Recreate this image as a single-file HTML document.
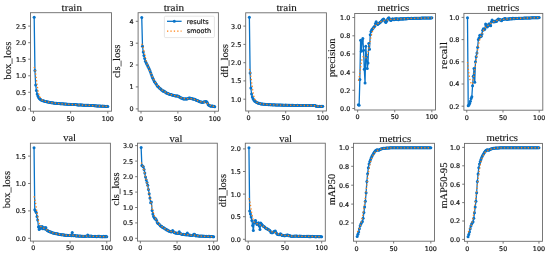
<!DOCTYPE html>
<html lang="en">
<head>
<meta charset="utf-8">
<title>results</title>
<style>html,body{margin:0;padding:0;background:#fff}svg{display:block}</style>
</head>
<body>
<svg width="550" height="259" viewBox="0 0 550 259" text-rendering="geometricPrecision">
<rect width="550" height="259" fill="#fff"/>
<g>
<polyline points="34.18,17.2 34.93,70.6 35.67,85 36.41,90.5 37.16,94 37.9,96.06 38.64,97.5 39.39,98.57 40.13,99.3 40.88,99.77 41.62,100.15 42.36,100.48 43.11,100.72 43.85,100.88 44.6,101.15 45.34,101.5 46.08,101.52 46.83,101.75 47.57,102.04 48.31,101.98 49.06,102.26 49.8,102.49 50.55,102.45 51.29,102.65 52.03,102.86 52.78,102.78 53.52,102.98 54.26,103.13 55.01,103.2 55.75,103.23 56.5,103.25 57.24,103.4 57.98,103.44 58.73,103.54 59.47,103.58 60.21,103.75 60.96,103.8 61.7,103.75 62.45,103.87 63.19,103.85 63.93,103.95 64.68,103.98 65.42,104.1 66.17,104.08 66.91,104.15 67.65,104.26 68.4,104.24 69.14,104.4 69.88,104.28 70.63,104.46 71.37,104.43 72.12,104.48 72.86,104.57 73.6,104.59 74.35,104.61 75.09,104.55 75.83,104.61 76.58,104.8 77.32,104.8 78.07,104.88 78.81,104.98 79.55,104.95 80.3,104.84 81.04,104.94 81.79,105.04 82.53,105 83.27,105.21 84.02,105.25 84.76,105.26 85.5,105.21 86.25,105.34 86.99,105.21 87.74,105.3 88.48,105.37 89.22,105.48 89.97,105.46 90.71,105.42 91.45,105.51 92.2,105.55 92.94,105.59 93.69,105.6 94.43,105.7 95.17,105.75 95.92,105.87 96.66,105.92 97.4,105.9 98.15,105.93 98.89,106.05 99.64,106.11 100.38,106.11 101.12,106.18 101.87,106.26 102.61,106.08 103.36,106.33 104.1,106.23 104.84,106.32 105.59,106.44 106.33,106.46 107.07,106.37 107.82,106.54" fill="none" stroke="#0973c8" stroke-width="1.3" stroke-linejoin="round" stroke-linecap="round"/>
<g fill="#0973c8"><circle cx="34.18" cy="17.2" r="1.5"/><circle cx="34.93" cy="70.6" r="1.5"/><circle cx="35.67" cy="85" r="1.5"/><circle cx="36.41" cy="90.5" r="1.5"/><circle cx="37.16" cy="94" r="1.5"/><circle cx="37.9" cy="96.06" r="1.5"/><circle cx="38.64" cy="97.5" r="1.5"/><circle cx="39.39" cy="98.57" r="1.5"/><circle cx="40.13" cy="99.3" r="1.5"/><circle cx="40.88" cy="99.77" r="1.5"/><circle cx="41.62" cy="100.15" r="1.5"/><circle cx="42.36" cy="100.48" r="1.5"/><circle cx="43.11" cy="100.72" r="1.5"/><circle cx="43.85" cy="100.88" r="1.5"/><circle cx="44.6" cy="101.15" r="1.5"/><circle cx="45.34" cy="101.5" r="1.5"/><circle cx="46.08" cy="101.52" r="1.5"/><circle cx="46.83" cy="101.75" r="1.5"/><circle cx="47.57" cy="102.04" r="1.5"/><circle cx="48.31" cy="101.98" r="1.5"/><circle cx="49.06" cy="102.26" r="1.5"/><circle cx="49.8" cy="102.49" r="1.5"/><circle cx="50.55" cy="102.45" r="1.5"/><circle cx="51.29" cy="102.65" r="1.5"/><circle cx="52.03" cy="102.86" r="1.5"/><circle cx="52.78" cy="102.78" r="1.5"/><circle cx="53.52" cy="102.98" r="1.5"/><circle cx="54.26" cy="103.13" r="1.5"/><circle cx="55.01" cy="103.2" r="1.5"/><circle cx="55.75" cy="103.23" r="1.5"/><circle cx="56.5" cy="103.25" r="1.5"/><circle cx="57.24" cy="103.4" r="1.5"/><circle cx="57.98" cy="103.44" r="1.5"/><circle cx="58.73" cy="103.54" r="1.5"/><circle cx="59.47" cy="103.58" r="1.5"/><circle cx="60.21" cy="103.75" r="1.5"/><circle cx="60.96" cy="103.8" r="1.5"/><circle cx="61.7" cy="103.75" r="1.5"/><circle cx="62.45" cy="103.87" r="1.5"/><circle cx="63.19" cy="103.85" r="1.5"/><circle cx="63.93" cy="103.95" r="1.5"/><circle cx="64.68" cy="103.98" r="1.5"/><circle cx="65.42" cy="104.1" r="1.5"/><circle cx="66.17" cy="104.08" r="1.5"/><circle cx="66.91" cy="104.15" r="1.5"/><circle cx="67.65" cy="104.26" r="1.5"/><circle cx="68.4" cy="104.24" r="1.5"/><circle cx="69.14" cy="104.4" r="1.5"/><circle cx="69.88" cy="104.28" r="1.5"/><circle cx="70.63" cy="104.46" r="1.5"/><circle cx="71.37" cy="104.43" r="1.5"/><circle cx="72.12" cy="104.48" r="1.5"/><circle cx="72.86" cy="104.57" r="1.5"/><circle cx="73.6" cy="104.59" r="1.5"/><circle cx="74.35" cy="104.61" r="1.5"/><circle cx="75.09" cy="104.55" r="1.5"/><circle cx="75.83" cy="104.61" r="1.5"/><circle cx="76.58" cy="104.8" r="1.5"/><circle cx="77.32" cy="104.8" r="1.5"/><circle cx="78.07" cy="104.88" r="1.5"/><circle cx="78.81" cy="104.98" r="1.5"/><circle cx="79.55" cy="104.95" r="1.5"/><circle cx="80.3" cy="104.84" r="1.5"/><circle cx="81.04" cy="104.94" r="1.5"/><circle cx="81.79" cy="105.04" r="1.5"/><circle cx="82.53" cy="105" r="1.5"/><circle cx="83.27" cy="105.21" r="1.5"/><circle cx="84.02" cy="105.25" r="1.5"/><circle cx="84.76" cy="105.26" r="1.5"/><circle cx="85.5" cy="105.21" r="1.5"/><circle cx="86.25" cy="105.34" r="1.5"/><circle cx="86.99" cy="105.21" r="1.5"/><circle cx="87.74" cy="105.3" r="1.5"/><circle cx="88.48" cy="105.37" r="1.5"/><circle cx="89.22" cy="105.48" r="1.5"/><circle cx="89.97" cy="105.46" r="1.5"/><circle cx="90.71" cy="105.42" r="1.5"/><circle cx="91.45" cy="105.51" r="1.5"/><circle cx="92.2" cy="105.55" r="1.5"/><circle cx="92.94" cy="105.59" r="1.5"/><circle cx="93.69" cy="105.6" r="1.5"/><circle cx="94.43" cy="105.7" r="1.5"/><circle cx="95.17" cy="105.75" r="1.5"/><circle cx="95.92" cy="105.87" r="1.5"/><circle cx="96.66" cy="105.92" r="1.5"/><circle cx="97.4" cy="105.9" r="1.5"/><circle cx="98.15" cy="105.93" r="1.5"/><circle cx="98.89" cy="106.05" r="1.5"/><circle cx="99.64" cy="106.11" r="1.5"/><circle cx="100.38" cy="106.11" r="1.5"/><circle cx="101.12" cy="106.18" r="1.5"/><circle cx="101.87" cy="106.26" r="1.5"/><circle cx="102.61" cy="106.08" r="1.5"/><circle cx="103.36" cy="106.33" r="1.5"/><circle cx="104.1" cy="106.23" r="1.5"/><circle cx="104.84" cy="106.32" r="1.5"/><circle cx="105.59" cy="106.44" r="1.5"/><circle cx="106.33" cy="106.46" r="1.5"/><circle cx="107.07" cy="106.37" r="1.5"/><circle cx="107.82" cy="106.54" r="1.5"/></g>
<polyline points="34.18,66.83 34.93,69.48 35.67,74.11 36.41,79.68 37.16,85.15 37.9,89.81 38.64,93.4 39.39,95.94 40.13,97.66 40.88,98.8 41.62,99.56 42.36,100.1 43.11,100.5 43.85,100.82 44.6,101.08 45.34,101.31 46.08,101.52 46.83,101.71 47.57,101.89 48.31,102.05 49.06,102.21 49.8,102.35 50.55,102.49 51.29,102.62 52.03,102.74 52.78,102.85 53.52,102.95 54.26,103.05 55.01,103.13 55.75,103.22 56.5,103.3 57.24,103.38 57.98,103.45 58.73,103.53 59.47,103.6 60.21,103.66 60.96,103.73 61.7,103.78 62.45,103.84 63.19,103.89 63.93,103.95 64.68,104 65.42,104.05 66.17,104.11 66.91,104.16 67.65,104.21 68.4,104.26 69.14,104.31 69.88,104.36 70.63,104.4 71.37,104.44 72.12,104.48 72.86,104.52 73.6,104.56 74.35,104.6 75.09,104.65 75.83,104.69 76.58,104.74 77.32,104.79 78.07,104.83 78.81,104.87 79.55,104.91 80.3,104.95 81.04,104.99 81.79,105.04 82.53,105.08 83.27,105.13 84.02,105.17 84.76,105.21 85.5,105.24 86.25,105.28 86.99,105.31 87.74,105.34 88.48,105.37 89.22,105.41 89.97,105.45 90.71,105.48 91.45,105.52 92.2,105.56 92.94,105.61 93.69,105.66 94.43,105.71 95.17,105.76 95.92,105.82 96.66,105.87 97.4,105.92 98.15,105.97 98.89,106.02 99.64,106.06 100.38,106.11 101.12,106.15 101.87,106.18 102.61,106.22 103.36,106.26 104.1,106.29 104.84,106.33 105.59,106.36 106.33,106.39 107.07,106.41 107.82,106.42" fill="none" stroke="#ff7f0e" stroke-width="1.3" stroke-dasharray="1.3 2.1"/>
<rect x="30.5" y="12.7" width="81" height="98.5" stroke="#6a6a6a" stroke-width="0.9" fill="none"/>
<path d="M33.44 111.2v2.3M70.63 111.2v2.3M107.82 111.2v2.3M30.5 108.9h-2.3M30.5 92.3h-2.3M30.5 75.8h-2.3M30.5 59.2h-2.3M30.5 42.7h-2.3M30.5 26.1h-2.3" stroke="#6a6a6a" stroke-width="0.9" fill="none"/>
<g font-family="'DejaVu Sans', 'Liberation Sans', sans-serif" font-size="6.4" fill="#111" stroke="#111" stroke-width="0.18">
<text x="33.44" y="120.5" text-anchor="middle">0</text>
<text x="70.63" y="120.5" text-anchor="middle">50</text>
<text x="107.82" y="120.5" text-anchor="middle">100</text>
<text x="26.05" y="111.3" text-anchor="end">0.0</text>
<text x="26.05" y="94.7" text-anchor="end">0.5</text>
<text x="26.05" y="78.2" text-anchor="end">1.0</text>
<text x="26.05" y="61.6" text-anchor="end">1.5</text>
<text x="26.05" y="45.1" text-anchor="end">2.0</text>
<text x="26.05" y="28.5" text-anchor="end">2.5</text>
</g>
<g font-family="'Liberation Serif', 'DejaVu Serif', serif" font-size="10.2" fill="#111" stroke="#111" stroke-width="0.12">
<text x="61.6" y="10.8" textLength="20.4" lengthAdjust="spacingAndGlyphs">train</text>
<text transform="translate(11 79.7) rotate(-90)" textLength="38.1" lengthAdjust="spacingAndGlyphs">box_loss</text>
</g>
</g>
<g>
<polyline points="141.75,17.4 142.49,46.2 143.22,52 143.96,55.5 144.7,58.56 145.44,61.29 146.17,62.76 146.91,64.23 147.65,65.7 148.39,67.27 149.12,68.83 149.86,70.4 150.6,72.56 151.34,74.53 152.07,76.41 152.81,78.19 153.55,79.66 154.29,81.38 155.02,82.31 155.76,83.55 156.5,84.58 157.23,85.99 157.97,86.33 158.71,87.31 159.45,87.95 160.18,88.57 160.92,89.2 161.66,90.04 162.4,90.24 163.13,91.15 163.87,91.11 164.61,91.72 165.35,92.11 166.08,92.73 166.82,93.21 167.56,93.22 168.3,93.67 169.03,93.88 169.77,94.43 170.51,94.57 171.24,94.46 171.98,95.02 172.72,95.37 173.46,95.13 174.19,95.51 174.93,95.84 175.67,96.08 176.41,95.96 177.14,95.76 177.88,96.13 178.62,96.35 179.36,97.11 180.09,97.35 180.83,97.8 181.57,98.33 182.31,98.19 183.04,98.69 183.78,98.93 184.52,99.05 185.26,98.83 185.99,99.03 186.73,98.92 187.47,98.69 188.2,98.52 188.94,98.1 189.68,97.99 190.42,98.37 191.15,98.53 191.89,98.55 192.63,98.91 193.37,99.12 194.1,99.35 194.84,99.33 195.58,99.7 196.32,100.25 197.05,100.41 197.79,100.78 198.53,100.97 199.27,101.47 200,101.71 200.74,102.1 201.48,102.01 202.21,102.38 202.95,102.24 203.69,102.01 204.43,101.84 205.16,101.82 205.9,101.55 206.64,101.7 207.38,102.81 208.11,104.61 208.85,105.22 209.59,105.54 210.33,106.01 211.06,106.31 211.8,106.1 212.54,106.1 213.28,106.49 214.01,106.21 214.75,106.77" fill="none" stroke="#0973c8" stroke-width="1.3" stroke-linejoin="round" stroke-linecap="round"/>
<g fill="#0973c8"><circle cx="141.75" cy="17.4" r="1.5"/><circle cx="142.49" cy="46.2" r="1.5"/><circle cx="143.22" cy="52" r="1.5"/><circle cx="143.96" cy="55.5" r="1.5"/><circle cx="144.7" cy="58.56" r="1.5"/><circle cx="145.44" cy="61.29" r="1.5"/><circle cx="146.17" cy="62.76" r="1.5"/><circle cx="146.91" cy="64.23" r="1.5"/><circle cx="147.65" cy="65.7" r="1.5"/><circle cx="148.39" cy="67.27" r="1.5"/><circle cx="149.12" cy="68.83" r="1.5"/><circle cx="149.86" cy="70.4" r="1.5"/><circle cx="150.6" cy="72.56" r="1.5"/><circle cx="151.34" cy="74.53" r="1.5"/><circle cx="152.07" cy="76.41" r="1.5"/><circle cx="152.81" cy="78.19" r="1.5"/><circle cx="153.55" cy="79.66" r="1.5"/><circle cx="154.29" cy="81.38" r="1.5"/><circle cx="155.02" cy="82.31" r="1.5"/><circle cx="155.76" cy="83.55" r="1.5"/><circle cx="156.5" cy="84.58" r="1.5"/><circle cx="157.23" cy="85.99" r="1.5"/><circle cx="157.97" cy="86.33" r="1.5"/><circle cx="158.71" cy="87.31" r="1.5"/><circle cx="159.45" cy="87.95" r="1.5"/><circle cx="160.18" cy="88.57" r="1.5"/><circle cx="160.92" cy="89.2" r="1.5"/><circle cx="161.66" cy="90.04" r="1.5"/><circle cx="162.4" cy="90.24" r="1.5"/><circle cx="163.13" cy="91.15" r="1.5"/><circle cx="163.87" cy="91.11" r="1.5"/><circle cx="164.61" cy="91.72" r="1.5"/><circle cx="165.35" cy="92.11" r="1.5"/><circle cx="166.08" cy="92.73" r="1.5"/><circle cx="166.82" cy="93.21" r="1.5"/><circle cx="167.56" cy="93.22" r="1.5"/><circle cx="168.3" cy="93.67" r="1.5"/><circle cx="169.03" cy="93.88" r="1.5"/><circle cx="169.77" cy="94.43" r="1.5"/><circle cx="170.51" cy="94.57" r="1.5"/><circle cx="171.24" cy="94.46" r="1.5"/><circle cx="171.98" cy="95.02" r="1.5"/><circle cx="172.72" cy="95.37" r="1.5"/><circle cx="173.46" cy="95.13" r="1.5"/><circle cx="174.19" cy="95.51" r="1.5"/><circle cx="174.93" cy="95.84" r="1.5"/><circle cx="175.67" cy="96.08" r="1.5"/><circle cx="176.41" cy="95.96" r="1.5"/><circle cx="177.14" cy="95.76" r="1.5"/><circle cx="177.88" cy="96.13" r="1.5"/><circle cx="178.62" cy="96.35" r="1.5"/><circle cx="179.36" cy="97.11" r="1.5"/><circle cx="180.09" cy="97.35" r="1.5"/><circle cx="180.83" cy="97.8" r="1.5"/><circle cx="181.57" cy="98.33" r="1.5"/><circle cx="182.31" cy="98.19" r="1.5"/><circle cx="183.04" cy="98.69" r="1.5"/><circle cx="183.78" cy="98.93" r="1.5"/><circle cx="184.52" cy="99.05" r="1.5"/><circle cx="185.26" cy="98.83" r="1.5"/><circle cx="185.99" cy="99.03" r="1.5"/><circle cx="186.73" cy="98.92" r="1.5"/><circle cx="187.47" cy="98.69" r="1.5"/><circle cx="188.2" cy="98.52" r="1.5"/><circle cx="188.94" cy="98.1" r="1.5"/><circle cx="189.68" cy="97.99" r="1.5"/><circle cx="190.42" cy="98.37" r="1.5"/><circle cx="191.15" cy="98.53" r="1.5"/><circle cx="191.89" cy="98.55" r="1.5"/><circle cx="192.63" cy="98.91" r="1.5"/><circle cx="193.37" cy="99.12" r="1.5"/><circle cx="194.1" cy="99.35" r="1.5"/><circle cx="194.84" cy="99.33" r="1.5"/><circle cx="195.58" cy="99.7" r="1.5"/><circle cx="196.32" cy="100.25" r="1.5"/><circle cx="197.05" cy="100.41" r="1.5"/><circle cx="197.79" cy="100.78" r="1.5"/><circle cx="198.53" cy="100.97" r="1.5"/><circle cx="199.27" cy="101.47" r="1.5"/><circle cx="200" cy="101.71" r="1.5"/><circle cx="200.74" cy="102.1" r="1.5"/><circle cx="201.48" cy="102.01" r="1.5"/><circle cx="202.21" cy="102.38" r="1.5"/><circle cx="202.95" cy="102.24" r="1.5"/><circle cx="203.69" cy="102.01" r="1.5"/><circle cx="204.43" cy="101.84" r="1.5"/><circle cx="205.16" cy="101.82" r="1.5"/><circle cx="205.9" cy="101.55" r="1.5"/><circle cx="206.64" cy="101.7" r="1.5"/><circle cx="207.38" cy="102.81" r="1.5"/><circle cx="208.11" cy="104.61" r="1.5"/><circle cx="208.85" cy="105.22" r="1.5"/><circle cx="209.59" cy="105.54" r="1.5"/><circle cx="210.33" cy="106.01" r="1.5"/><circle cx="211.06" cy="106.31" r="1.5"/><circle cx="211.8" cy="106.1" r="1.5"/><circle cx="212.54" cy="106.1" r="1.5"/><circle cx="213.28" cy="106.49" r="1.5"/><circle cx="214.01" cy="106.21" r="1.5"/><circle cx="214.75" cy="106.77" r="1.5"/></g>
<polyline points="141.75,43.78 142.49,45.31 143.22,48.03 143.96,51.39 144.7,54.88 145.44,58.11 146.17,60.92 146.91,63.32 147.65,65.4 148.39,67.29 149.12,69.08 149.86,70.84 150.6,72.58 151.34,74.31 152.07,76 152.81,77.62 153.55,79.16 154.29,80.59 155.02,81.91 155.76,83.12 156.5,84.22 157.23,85.23 157.97,86.14 158.71,86.96 159.45,87.72 160.18,88.42 160.92,89.06 161.66,89.66 162.4,90.21 163.13,90.73 163.87,91.22 164.61,91.67 165.35,92.1 166.08,92.51 166.82,92.89 167.56,93.24 168.3,93.57 169.03,93.88 169.77,94.16 170.51,94.42 171.24,94.66 171.98,94.89 172.72,95.1 173.46,95.3 174.19,95.49 174.93,95.66 175.67,95.84 176.41,96.02 177.14,96.23 177.88,96.46 178.62,96.73 179.36,97.03 180.09,97.34 180.83,97.65 181.57,97.94 182.31,98.2 183.04,98.41 183.78,98.57 184.52,98.67 185.26,98.72 185.99,98.72 186.73,98.69 187.47,98.63 188.2,98.56 188.94,98.52 189.68,98.52 190.42,98.56 191.15,98.65 191.89,98.78 192.63,98.95 193.37,99.15 194.1,99.37 194.84,99.61 195.58,99.88 196.32,100.16 197.05,100.45 197.79,100.74 198.53,101.02 199.27,101.28 200,101.51 200.74,101.7 201.48,101.84 202.21,101.94 202.95,102.01 203.69,102.08 204.43,102.17 205.16,102.34 205.9,102.61 206.64,102.99 207.38,103.46 208.11,103.99 208.85,104.51 209.59,105 210.33,105.41 211.06,105.73 211.8,105.97 212.54,106.14 213.28,106.25 214.01,106.33 214.75,106.36" fill="none" stroke="#ff7f0e" stroke-width="1.3" stroke-dasharray="1.3 2.1"/>
<rect x="164.4" y="16.2" width="50" height="21.4" rx="1.2" fill="#fff" fill-opacity="0.8" stroke="#d0d0d0" stroke-width="0.55"/>
<line x1="167" y1="21.3" x2="181.6" y2="21.3" stroke="#0973c8" stroke-width="1.3"/>
<circle cx="174.3" cy="21.3" r="1.5" fill="#0973c8"/>
<line x1="167" y1="31.1" x2="181.6" y2="31.1" stroke="#ff7f0e" stroke-width="1.3" stroke-dasharray="1.3 2.1"/>
<text x="186.8" y="23.6" font-family="'DejaVu Sans', 'Liberation Sans', sans-serif" font-size="6.5" fill="#111" stroke="#111" stroke-width="0.18">results</text>
<text x="186.8" y="33.3" font-family="'DejaVu Sans', 'Liberation Sans', sans-serif" font-size="6.5" fill="#111" stroke="#111" stroke-width="0.18">smooth</text>
<rect x="138.1" y="12.7" width="80.3" height="98.5" stroke="#6a6a6a" stroke-width="0.9" fill="none"/>
<path d="M141.01 111.2v2.3M177.88 111.2v2.3M214.75 111.2v2.3M138.1 108.9h-2.3M138.1 86.9h-2.3M138.1 65h-2.3M138.1 43.2h-2.3M138.1 21.3h-2.3" stroke="#6a6a6a" stroke-width="0.9" fill="none"/>
<g font-family="'DejaVu Sans', 'Liberation Sans', sans-serif" font-size="6.4" fill="#111" stroke="#111" stroke-width="0.18">
<text x="141.01" y="120.5" text-anchor="middle">0</text>
<text x="177.88" y="120.5" text-anchor="middle">50</text>
<text x="214.75" y="120.5" text-anchor="middle">100</text>
<text x="133.65" y="111.3" text-anchor="end">0</text>
<text x="133.65" y="89.3" text-anchor="end">1</text>
<text x="133.65" y="67.4" text-anchor="end">2</text>
<text x="133.65" y="45.6" text-anchor="end">3</text>
<text x="133.65" y="23.7" text-anchor="end">4</text>
</g>
<g font-family="'Liberation Serif', 'DejaVu Serif', serif" font-size="10.2" fill="#111" stroke="#111" stroke-width="0.12">
<text x="163.65" y="10.65" textLength="20.5" lengthAdjust="spacingAndGlyphs">train</text>
<text transform="translate(120.2 78.1) rotate(-90)" textLength="33.6" lengthAdjust="spacingAndGlyphs">cls_loss</text>
</g>
</g>
<g>
<polyline points="249.37,17.2 250.11,72.9 250.85,88 251.59,94 252.33,96.94 253.07,98.87 253.81,100.05 254.56,100.93 255.3,101.61 256.04,102.12 256.78,102.51 257.52,102.85 258.26,103.25 259,103.26 259.74,103.6 260.48,103.71 261.22,103.92 261.97,103.98 262.71,104.05 263.45,104.18 264.19,104.19 264.93,104.34 265.67,104.44 266.41,104.41 267.15,104.58 267.89,104.59 268.64,104.68 269.38,104.53 270.12,104.65 270.86,104.79 271.6,104.75 272.34,104.84 273.08,104.9 273.82,104.74 274.56,104.78 275.3,104.96 276.05,105 276.79,104.99 277.53,104.91 278.27,104.96 279.01,105.02 279.75,105.01 280.49,105.03 281.23,105.04 281.97,105.17 282.72,105.02 283.46,105.17 284.2,105.19 284.94,105.27 285.68,105.07 286.42,105.24 287.16,105.26 287.9,105.24 288.64,105.16 289.38,105.18 290.13,105.23 290.87,105.4 291.61,105.27 292.35,105.28 293.09,105.35 293.83,105.4 294.57,105.47 295.31,105.51 296.05,105.39 296.8,105.56 297.54,105.36 298.28,105.45 299.02,105.42 299.76,105.46 300.5,105.48 301.24,105.5 301.98,105.48 302.72,105.43 303.46,105.43 304.21,105.44 304.95,105.55 305.69,105.48 306.43,105.52 307.17,105.5 307.91,105.48 308.65,105.56 309.39,105.51 310.13,105.45 310.88,105.61 311.62,105.43 312.36,105.41 313.1,105.53 313.84,105.5 314.58,105.42 315.32,105.57 316.06,106.16 316.8,106.35 317.54,106.3 318.29,106.4 319.03,106.43 319.77,106.28 320.51,106.38 321.25,106.26 321.99,106.4 322.73,106.36" fill="none" stroke="#0973c8" stroke-width="1.3" stroke-linejoin="round" stroke-linecap="round"/>
<g fill="#0973c8"><circle cx="249.37" cy="17.2" r="1.5"/><circle cx="250.11" cy="72.9" r="1.5"/><circle cx="250.85" cy="88" r="1.5"/><circle cx="251.59" cy="94" r="1.5"/><circle cx="252.33" cy="96.94" r="1.5"/><circle cx="253.07" cy="98.87" r="1.5"/><circle cx="253.81" cy="100.05" r="1.5"/><circle cx="254.56" cy="100.93" r="1.5"/><circle cx="255.3" cy="101.61" r="1.5"/><circle cx="256.04" cy="102.12" r="1.5"/><circle cx="256.78" cy="102.51" r="1.5"/><circle cx="257.52" cy="102.85" r="1.5"/><circle cx="258.26" cy="103.25" r="1.5"/><circle cx="259" cy="103.26" r="1.5"/><circle cx="259.74" cy="103.6" r="1.5"/><circle cx="260.48" cy="103.71" r="1.5"/><circle cx="261.22" cy="103.92" r="1.5"/><circle cx="261.97" cy="103.98" r="1.5"/><circle cx="262.71" cy="104.05" r="1.5"/><circle cx="263.45" cy="104.18" r="1.5"/><circle cx="264.19" cy="104.19" r="1.5"/><circle cx="264.93" cy="104.34" r="1.5"/><circle cx="265.67" cy="104.44" r="1.5"/><circle cx="266.41" cy="104.41" r="1.5"/><circle cx="267.15" cy="104.58" r="1.5"/><circle cx="267.89" cy="104.59" r="1.5"/><circle cx="268.64" cy="104.68" r="1.5"/><circle cx="269.38" cy="104.53" r="1.5"/><circle cx="270.12" cy="104.65" r="1.5"/><circle cx="270.86" cy="104.79" r="1.5"/><circle cx="271.6" cy="104.75" r="1.5"/><circle cx="272.34" cy="104.84" r="1.5"/><circle cx="273.08" cy="104.9" r="1.5"/><circle cx="273.82" cy="104.74" r="1.5"/><circle cx="274.56" cy="104.78" r="1.5"/><circle cx="275.3" cy="104.96" r="1.5"/><circle cx="276.05" cy="105" r="1.5"/><circle cx="276.79" cy="104.99" r="1.5"/><circle cx="277.53" cy="104.91" r="1.5"/><circle cx="278.27" cy="104.96" r="1.5"/><circle cx="279.01" cy="105.02" r="1.5"/><circle cx="279.75" cy="105.01" r="1.5"/><circle cx="280.49" cy="105.03" r="1.5"/><circle cx="281.23" cy="105.04" r="1.5"/><circle cx="281.97" cy="105.17" r="1.5"/><circle cx="282.72" cy="105.02" r="1.5"/><circle cx="283.46" cy="105.17" r="1.5"/><circle cx="284.2" cy="105.19" r="1.5"/><circle cx="284.94" cy="105.27" r="1.5"/><circle cx="285.68" cy="105.07" r="1.5"/><circle cx="286.42" cy="105.24" r="1.5"/><circle cx="287.16" cy="105.26" r="1.5"/><circle cx="287.9" cy="105.24" r="1.5"/><circle cx="288.64" cy="105.16" r="1.5"/><circle cx="289.38" cy="105.18" r="1.5"/><circle cx="290.13" cy="105.23" r="1.5"/><circle cx="290.87" cy="105.4" r="1.5"/><circle cx="291.61" cy="105.27" r="1.5"/><circle cx="292.35" cy="105.28" r="1.5"/><circle cx="293.09" cy="105.35" r="1.5"/><circle cx="293.83" cy="105.4" r="1.5"/><circle cx="294.57" cy="105.47" r="1.5"/><circle cx="295.31" cy="105.51" r="1.5"/><circle cx="296.05" cy="105.39" r="1.5"/><circle cx="296.8" cy="105.56" r="1.5"/><circle cx="297.54" cy="105.36" r="1.5"/><circle cx="298.28" cy="105.45" r="1.5"/><circle cx="299.02" cy="105.42" r="1.5"/><circle cx="299.76" cy="105.46" r="1.5"/><circle cx="300.5" cy="105.48" r="1.5"/><circle cx="301.24" cy="105.5" r="1.5"/><circle cx="301.98" cy="105.48" r="1.5"/><circle cx="302.72" cy="105.43" r="1.5"/><circle cx="303.46" cy="105.43" r="1.5"/><circle cx="304.21" cy="105.44" r="1.5"/><circle cx="304.95" cy="105.55" r="1.5"/><circle cx="305.69" cy="105.48" r="1.5"/><circle cx="306.43" cy="105.52" r="1.5"/><circle cx="307.17" cy="105.5" r="1.5"/><circle cx="307.91" cy="105.48" r="1.5"/><circle cx="308.65" cy="105.56" r="1.5"/><circle cx="309.39" cy="105.51" r="1.5"/><circle cx="310.13" cy="105.45" r="1.5"/><circle cx="310.88" cy="105.61" r="1.5"/><circle cx="311.62" cy="105.43" r="1.5"/><circle cx="312.36" cy="105.41" r="1.5"/><circle cx="313.1" cy="105.53" r="1.5"/><circle cx="313.84" cy="105.5" r="1.5"/><circle cx="314.58" cy="105.42" r="1.5"/><circle cx="315.32" cy="105.57" r="1.5"/><circle cx="316.06" cy="106.16" r="1.5"/><circle cx="316.8" cy="106.35" r="1.5"/><circle cx="317.54" cy="106.3" r="1.5"/><circle cx="318.29" cy="106.4" r="1.5"/><circle cx="319.03" cy="106.43" r="1.5"/><circle cx="319.77" cy="106.28" r="1.5"/><circle cx="320.51" cy="106.38" r="1.5"/><circle cx="321.25" cy="106.26" r="1.5"/><circle cx="321.99" cy="106.4" r="1.5"/><circle cx="322.73" cy="106.36" r="1.5"/></g>
<polyline points="249.37,68.92 250.11,71.65 250.85,76.41 251.59,82.1 252.33,87.67 253.07,92.38 253.81,95.96 254.56,98.47 255.3,100.14 256.04,101.24 256.78,101.98 257.52,102.5 258.26,102.88 259,103.17 259.74,103.41 260.48,103.6 261.22,103.77 261.97,103.9 262.71,104.02 263.45,104.12 264.19,104.21 264.93,104.29 265.67,104.37 266.41,104.44 267.15,104.49 267.89,104.55 268.64,104.59 269.38,104.64 270.12,104.68 270.86,104.72 271.6,104.75 272.34,104.78 273.08,104.81 273.82,104.84 274.56,104.87 275.3,104.9 276.05,104.92 276.79,104.94 277.53,104.96 278.27,104.98 279.01,105 279.75,105.02 280.49,105.05 281.23,105.07 281.97,105.09 282.72,105.11 283.46,105.14 284.2,105.16 284.94,105.17 285.68,105.19 286.42,105.2 287.16,105.21 287.9,105.22 288.64,105.23 289.38,105.25 290.13,105.27 290.87,105.29 291.61,105.31 292.35,105.34 293.09,105.36 293.83,105.39 294.57,105.41 295.31,105.42 296.05,105.44 296.8,105.44 297.54,105.45 298.28,105.45 299.02,105.45 299.76,105.46 300.5,105.46 301.24,105.46 301.98,105.46 302.72,105.47 303.46,105.47 304.21,105.48 304.95,105.48 305.69,105.49 306.43,105.5 307.17,105.5 307.91,105.5 308.65,105.51 309.39,105.51 310.13,105.51 310.88,105.51 311.62,105.52 312.36,105.54 313.1,105.58 313.84,105.65 314.58,105.73 315.32,105.84 316.06,105.96 316.8,106.07 317.54,106.16 318.29,106.23 319.03,106.28 319.77,106.32 320.51,106.33 321.25,106.34 321.99,106.35 322.73,106.35" fill="none" stroke="#ff7f0e" stroke-width="1.3" stroke-dasharray="1.3 2.1"/>
<rect x="245.7" y="12.8" width="80.7" height="98.2" stroke="#6a6a6a" stroke-width="0.9" fill="none"/>
<path d="M248.63 111v2.3M285.68 111v2.3M322.73 111v2.3M245.7 99.2h-2.3M245.7 80.9h-2.3M245.7 62.7h-2.3M245.7 44.4h-2.3M245.7 26.1h-2.3" stroke="#6a6a6a" stroke-width="0.9" fill="none"/>
<g font-family="'DejaVu Sans', 'Liberation Sans', sans-serif" font-size="6.4" fill="#111" stroke="#111" stroke-width="0.18">
<text x="248.63" y="120.3" text-anchor="middle">0</text>
<text x="285.68" y="120.3" text-anchor="middle">50</text>
<text x="322.73" y="120.3" text-anchor="middle">100</text>
<text x="241.25" y="101.6" text-anchor="end">1.0</text>
<text x="241.25" y="83.3" text-anchor="end">1.5</text>
<text x="241.25" y="65.1" text-anchor="end">2.0</text>
<text x="241.25" y="46.8" text-anchor="end">2.5</text>
<text x="241.25" y="28.5" text-anchor="end">3.0</text>
</g>
<g font-family="'Liberation Serif', 'DejaVu Serif', serif" font-size="10.2" fill="#111" stroke="#111" stroke-width="0.12">
<text x="276.55" y="10.65" textLength="20.3" lengthAdjust="spacingAndGlyphs">train</text>
<text transform="translate(227.7 77.6) rotate(-90)" textLength="33.6" lengthAdjust="spacingAndGlyphs">dfl_loss</text>
</g>
</g>
<g>
<polyline points="358.37,104.86 359.11,105.31 359.86,79.38 360.6,40.25 361.34,51.17 362.08,40.7 362.82,38.43 363.57,50.26 364.31,69.37 365.05,83.02 365.79,46.16 366.53,57.09 367.28,68.46 368.02,63 368.76,43.44 369.5,49.35 370.24,34.79 370.99,31.61 371.73,29.78 372.47,28.88 373.21,27.97 373.95,27.05 374.7,26.14 375.44,23.41 376.18,21.87 376.92,23.41 377.66,24.6 378.41,23.87 379.15,23.14 379.89,22.51 380.63,22.05 381.37,21.14 382.12,20.23 382.86,19.5 383.6,19.05 384.34,20.05 385.08,21.59 385.83,22.41 386.57,21.14 387.31,19.78 388.05,18.59 388.79,17.86 389.54,18.86 390.28,20.05 391.02,20.41 391.76,19.5 392.5,18.86 393.25,19.23 393.99,19.68 394.73,18.86 395.47,19.5 396.21,18.59 396.95,19.41 397.7,18.77 398.44,19.68 399.18,18.68 399.92,19.23 400.66,18.5 401.41,19.32 402.15,18.59 402.89,19.14 403.63,18.41 404.37,19.05 405.12,18.5 405.86,18.96 406.6,18.41 407.34,18.86 408.08,18.32 408.83,18.46 409.57,18.59 410.31,18.46 411.05,18.32 411.79,18.35 412.54,18.38 413.28,18.41 414.02,18.37 414.76,18.34 415.5,18.3 416.25,18.26 416.99,18.23 417.73,18.21 418.47,18.19 419.21,18.17 419.96,18.16 420.7,18.14 421.44,18.12 422.18,18.1 422.92,18.08 423.67,18.06 424.41,18.05 425.15,18.03 425.89,18.01 426.63,17.99 427.38,17.97 428.12,17.95 428.86,17.94 429.6,17.92 430.34,17.9 431.09,17.88 431.83,17.86" fill="none" stroke="#0973c8" stroke-width="1.3" stroke-linejoin="round" stroke-linecap="round"/>
<g fill="#0973c8"><circle cx="358.37" cy="104.86" r="1.5"/><circle cx="359.11" cy="105.31" r="1.5"/><circle cx="359.86" cy="79.38" r="1.5"/><circle cx="360.6" cy="40.25" r="1.5"/><circle cx="361.34" cy="51.17" r="1.5"/><circle cx="362.08" cy="40.7" r="1.5"/><circle cx="362.82" cy="38.43" r="1.5"/><circle cx="363.57" cy="50.26" r="1.5"/><circle cx="364.31" cy="69.37" r="1.5"/><circle cx="365.05" cy="83.02" r="1.5"/><circle cx="365.79" cy="46.16" r="1.5"/><circle cx="366.53" cy="57.09" r="1.5"/><circle cx="367.28" cy="68.46" r="1.5"/><circle cx="368.02" cy="63" r="1.5"/><circle cx="368.76" cy="43.44" r="1.5"/><circle cx="369.5" cy="49.35" r="1.5"/><circle cx="370.24" cy="34.79" r="1.5"/><circle cx="370.99" cy="31.61" r="1.5"/><circle cx="371.73" cy="29.78" r="1.5"/><circle cx="372.47" cy="28.88" r="1.5"/><circle cx="373.21" cy="27.97" r="1.5"/><circle cx="373.95" cy="27.05" r="1.5"/><circle cx="374.7" cy="26.14" r="1.5"/><circle cx="375.44" cy="23.41" r="1.5"/><circle cx="376.18" cy="21.87" r="1.5"/><circle cx="376.92" cy="23.41" r="1.5"/><circle cx="377.66" cy="24.6" r="1.5"/><circle cx="378.41" cy="23.87" r="1.5"/><circle cx="379.15" cy="23.14" r="1.5"/><circle cx="379.89" cy="22.51" r="1.5"/><circle cx="380.63" cy="22.05" r="1.5"/><circle cx="381.37" cy="21.14" r="1.5"/><circle cx="382.12" cy="20.23" r="1.5"/><circle cx="382.86" cy="19.5" r="1.5"/><circle cx="383.6" cy="19.05" r="1.5"/><circle cx="384.34" cy="20.05" r="1.5"/><circle cx="385.08" cy="21.59" r="1.5"/><circle cx="385.83" cy="22.41" r="1.5"/><circle cx="386.57" cy="21.14" r="1.5"/><circle cx="387.31" cy="19.78" r="1.5"/><circle cx="388.05" cy="18.59" r="1.5"/><circle cx="388.79" cy="17.86" r="1.5"/><circle cx="389.54" cy="18.86" r="1.5"/><circle cx="390.28" cy="20.05" r="1.5"/><circle cx="391.02" cy="20.41" r="1.5"/><circle cx="391.76" cy="19.5" r="1.5"/><circle cx="392.5" cy="18.86" r="1.5"/><circle cx="393.25" cy="19.23" r="1.5"/><circle cx="393.99" cy="19.68" r="1.5"/><circle cx="394.73" cy="18.86" r="1.5"/><circle cx="395.47" cy="19.5" r="1.5"/><circle cx="396.21" cy="18.59" r="1.5"/><circle cx="396.95" cy="19.41" r="1.5"/><circle cx="397.7" cy="18.77" r="1.5"/><circle cx="398.44" cy="19.68" r="1.5"/><circle cx="399.18" cy="18.68" r="1.5"/><circle cx="399.92" cy="19.23" r="1.5"/><circle cx="400.66" cy="18.5" r="1.5"/><circle cx="401.41" cy="19.32" r="1.5"/><circle cx="402.15" cy="18.59" r="1.5"/><circle cx="402.89" cy="19.14" r="1.5"/><circle cx="403.63" cy="18.41" r="1.5"/><circle cx="404.37" cy="19.05" r="1.5"/><circle cx="405.12" cy="18.5" r="1.5"/><circle cx="405.86" cy="18.96" r="1.5"/><circle cx="406.6" cy="18.41" r="1.5"/><circle cx="407.34" cy="18.86" r="1.5"/><circle cx="408.08" cy="18.32" r="1.5"/><circle cx="408.83" cy="18.46" r="1.5"/><circle cx="409.57" cy="18.59" r="1.5"/><circle cx="410.31" cy="18.46" r="1.5"/><circle cx="411.05" cy="18.32" r="1.5"/><circle cx="411.79" cy="18.35" r="1.5"/><circle cx="412.54" cy="18.38" r="1.5"/><circle cx="413.28" cy="18.41" r="1.5"/><circle cx="414.02" cy="18.37" r="1.5"/><circle cx="414.76" cy="18.34" r="1.5"/><circle cx="415.5" cy="18.3" r="1.5"/><circle cx="416.25" cy="18.26" r="1.5"/><circle cx="416.99" cy="18.23" r="1.5"/><circle cx="417.73" cy="18.21" r="1.5"/><circle cx="418.47" cy="18.19" r="1.5"/><circle cx="419.21" cy="18.17" r="1.5"/><circle cx="419.96" cy="18.16" r="1.5"/><circle cx="420.7" cy="18.14" r="1.5"/><circle cx="421.44" cy="18.12" r="1.5"/><circle cx="422.18" cy="18.1" r="1.5"/><circle cx="422.92" cy="18.08" r="1.5"/><circle cx="423.67" cy="18.06" r="1.5"/><circle cx="424.41" cy="18.05" r="1.5"/><circle cx="425.15" cy="18.03" r="1.5"/><circle cx="425.89" cy="18.01" r="1.5"/><circle cx="426.63" cy="17.99" r="1.5"/><circle cx="427.38" cy="17.97" r="1.5"/><circle cx="428.12" cy="17.95" r="1.5"/><circle cx="428.86" cy="17.94" r="1.5"/><circle cx="429.6" cy="17.92" r="1.5"/><circle cx="430.34" cy="17.9" r="1.5"/><circle cx="431.09" cy="17.88" r="1.5"/><circle cx="431.83" cy="17.86" r="1.5"/></g>
<polyline points="358.37,80.71 359.11,77.92 359.86,73.09 360.6,67.48 361.34,62.4 362.08,58.79 362.82,56.98 363.57,56.68 364.31,57.24 365.05,57.86 365.79,57.92 366.53,57.06 367.28,55.15 368.02,52.3 368.76,48.74 369.5,44.79 370.24,40.81 370.99,37.11 371.73,33.9 372.47,31.26 373.21,29.16 373.95,27.53 374.7,26.27 375.44,25.3 376.18,24.56 376.92,24 377.66,23.54 378.41,23.14 379.15,22.72 379.89,22.28 380.63,21.83 381.37,21.4 382.12,21.04 382.86,20.78 383.6,20.61 384.34,20.52 385.08,20.45 385.83,20.34 386.57,20.17 387.31,19.97 388.05,19.76 388.79,19.59 389.54,19.48 390.28,19.43 391.02,19.4 391.76,19.39 392.5,19.36 393.25,19.32 393.99,19.28 394.73,19.23 395.47,19.18 396.21,19.15 396.95,19.12 397.7,19.09 398.44,19.06 399.18,19.02 399.92,18.99 400.66,18.95 401.41,18.91 402.15,18.87 402.89,18.83 403.63,18.79 404.37,18.76 405.12,18.72 405.86,18.68 406.6,18.64 407.34,18.6 408.08,18.55 408.83,18.52 409.57,18.48 410.31,18.45 411.05,18.42 411.79,18.4 412.54,18.38 413.28,18.36 414.02,18.34 414.76,18.32 415.5,18.3 416.25,18.27 416.99,18.25 417.73,18.22 418.47,18.2 419.21,18.18 419.96,18.16 420.7,18.14 421.44,18.12 422.18,18.1 422.92,18.08 423.67,18.06 424.41,18.05 425.15,18.03 425.89,18.01 426.63,17.99 427.38,17.97 428.12,17.96 428.86,17.94 429.6,17.93 430.34,17.91 431.09,17.9 431.83,17.9" fill="none" stroke="#ff7f0e" stroke-width="1.3" stroke-dasharray="1.3 2.1"/>
<rect x="354.7" y="13.5" width="80.8" height="96.5" stroke="#6a6a6a" stroke-width="0.9" fill="none"/>
<path d="M357.63 110v2.3M394.73 110v2.3M431.83 110v2.3M354.7 108.5h-2.3M354.7 90.3h-2.3M354.7 72.2h-2.3M354.7 54h-2.3M354.7 35.8h-2.3M354.7 17.5h-2.3" stroke="#6a6a6a" stroke-width="0.9" fill="none"/>
<g font-family="'DejaVu Sans', 'Liberation Sans', sans-serif" font-size="6.4" fill="#111" stroke="#111" stroke-width="0.18">
<text x="357.63" y="119.3" text-anchor="middle">0</text>
<text x="394.73" y="119.3" text-anchor="middle">50</text>
<text x="431.83" y="119.3" text-anchor="middle">100</text>
<text x="350.25" y="110.9" text-anchor="end">0.0</text>
<text x="350.25" y="92.7" text-anchor="end">0.2</text>
<text x="350.25" y="74.6" text-anchor="end">0.4</text>
<text x="350.25" y="56.4" text-anchor="end">0.6</text>
<text x="350.25" y="38.2" text-anchor="end">0.8</text>
<text x="350.25" y="19.9" text-anchor="end">1.0</text>
</g>
<g font-family="'Liberation Serif', 'DejaVu Serif', serif" font-size="10.2" fill="#111" stroke="#111" stroke-width="0.12">
<text x="377.5" y="11.25" textLength="31.6" lengthAdjust="spacingAndGlyphs">metrics</text>
<text transform="translate(335 77.2) rotate(-90)" textLength="38.8" lengthAdjust="spacingAndGlyphs">precision</text>
</g>
</g>
<g>
<polyline points="467.49,17.84 468.21,105.76 468.94,105.09 469.66,103.43 470.38,101.21 471.11,98.43 471.83,96.77 472.56,85.67 473.28,76.23 474.01,68.46 474.73,82.34 475.46,61.8 476.18,56.81 476.91,52.92 477.63,47.37 478.35,39.6 479.08,37.94 479.8,35.16 480.53,36.83 481.25,36.27 481.98,34.05 482.7,30.17 483.43,28.72 484.15,29.83 484.87,29.06 485.6,24.06 486.32,25.17 487.05,26.95 487.77,26.28 488.5,24.5 489.22,23.84 489.95,25.17 490.67,25.72 491.4,21.84 492.12,20.06 492.84,21.29 493.57,22.06 494.29,21.17 495.02,21.84 495.74,20.95 496.47,21.4 497.19,20.18 497.92,19.18 498.64,18.95 499.37,19.84 500.09,19.4 500.81,20.29 501.54,20.73 502.26,19.84 502.99,19.18 503.71,19.62 504.44,18.62 505.16,18.51 505.89,19.18 506.61,18.95 507.33,19.51 508.06,18.73 508.78,19.18 509.51,18.51 510.23,19.07 510.96,18.4 511.68,18.95 512.41,18.29 513.13,18.84 513.86,18.29 514.58,18.73 515.3,18.51 516.03,18.29 516.75,18.4 517.48,18.51 518.2,18.34 518.93,18.18 519.65,18.21 520.38,18.25 521.1,18.29 521.83,18.24 522.55,18.2 523.27,18.15 524,18.11 524.72,18.07 525.45,18.04 526.17,18.02 526.9,18 527.62,17.98 528.35,17.96 529.07,17.93 529.79,17.91 530.52,17.89 531.24,17.87 531.97,17.84 532.69,17.82 533.42,17.8 534.14,17.78 534.87,17.76 535.59,17.73 536.32,17.71 537.04,17.69 537.76,17.67 538.49,17.64 539.21,17.62" fill="none" stroke="#0973c8" stroke-width="1.3" stroke-linejoin="round" stroke-linecap="round"/>
<g fill="#0973c8"><circle cx="467.49" cy="17.84" r="1.5"/><circle cx="468.21" cy="105.76" r="1.5"/><circle cx="468.94" cy="105.09" r="1.5"/><circle cx="469.66" cy="103.43" r="1.5"/><circle cx="470.38" cy="101.21" r="1.5"/><circle cx="471.11" cy="98.43" r="1.5"/><circle cx="471.83" cy="96.77" r="1.5"/><circle cx="472.56" cy="85.67" r="1.5"/><circle cx="473.28" cy="76.23" r="1.5"/><circle cx="474.01" cy="68.46" r="1.5"/><circle cx="474.73" cy="82.34" r="1.5"/><circle cx="475.46" cy="61.8" r="1.5"/><circle cx="476.18" cy="56.81" r="1.5"/><circle cx="476.91" cy="52.92" r="1.5"/><circle cx="477.63" cy="47.37" r="1.5"/><circle cx="478.35" cy="39.6" r="1.5"/><circle cx="479.08" cy="37.94" r="1.5"/><circle cx="479.8" cy="35.16" r="1.5"/><circle cx="480.53" cy="36.83" r="1.5"/><circle cx="481.25" cy="36.27" r="1.5"/><circle cx="481.98" cy="34.05" r="1.5"/><circle cx="482.7" cy="30.17" r="1.5"/><circle cx="483.43" cy="28.72" r="1.5"/><circle cx="484.15" cy="29.83" r="1.5"/><circle cx="484.87" cy="29.06" r="1.5"/><circle cx="485.6" cy="24.06" r="1.5"/><circle cx="486.32" cy="25.17" r="1.5"/><circle cx="487.05" cy="26.95" r="1.5"/><circle cx="487.77" cy="26.28" r="1.5"/><circle cx="488.5" cy="24.5" r="1.5"/><circle cx="489.22" cy="23.84" r="1.5"/><circle cx="489.95" cy="25.17" r="1.5"/><circle cx="490.67" cy="25.72" r="1.5"/><circle cx="491.4" cy="21.84" r="1.5"/><circle cx="492.12" cy="20.06" r="1.5"/><circle cx="492.84" cy="21.29" r="1.5"/><circle cx="493.57" cy="22.06" r="1.5"/><circle cx="494.29" cy="21.17" r="1.5"/><circle cx="495.02" cy="21.84" r="1.5"/><circle cx="495.74" cy="20.95" r="1.5"/><circle cx="496.47" cy="21.4" r="1.5"/><circle cx="497.19" cy="20.18" r="1.5"/><circle cx="497.92" cy="19.18" r="1.5"/><circle cx="498.64" cy="18.95" r="1.5"/><circle cx="499.37" cy="19.84" r="1.5"/><circle cx="500.09" cy="19.4" r="1.5"/><circle cx="500.81" cy="20.29" r="1.5"/><circle cx="501.54" cy="20.73" r="1.5"/><circle cx="502.26" cy="19.84" r="1.5"/><circle cx="502.99" cy="19.18" r="1.5"/><circle cx="503.71" cy="19.62" r="1.5"/><circle cx="504.44" cy="18.62" r="1.5"/><circle cx="505.16" cy="18.51" r="1.5"/><circle cx="505.89" cy="19.18" r="1.5"/><circle cx="506.61" cy="18.95" r="1.5"/><circle cx="507.33" cy="19.51" r="1.5"/><circle cx="508.06" cy="18.73" r="1.5"/><circle cx="508.78" cy="19.18" r="1.5"/><circle cx="509.51" cy="18.51" r="1.5"/><circle cx="510.23" cy="19.07" r="1.5"/><circle cx="510.96" cy="18.4" r="1.5"/><circle cx="511.68" cy="18.95" r="1.5"/><circle cx="512.41" cy="18.29" r="1.5"/><circle cx="513.13" cy="18.84" r="1.5"/><circle cx="513.86" cy="18.29" r="1.5"/><circle cx="514.58" cy="18.73" r="1.5"/><circle cx="515.3" cy="18.51" r="1.5"/><circle cx="516.03" cy="18.29" r="1.5"/><circle cx="516.75" cy="18.4" r="1.5"/><circle cx="517.48" cy="18.51" r="1.5"/><circle cx="518.2" cy="18.34" r="1.5"/><circle cx="518.93" cy="18.18" r="1.5"/><circle cx="519.65" cy="18.21" r="1.5"/><circle cx="520.38" cy="18.25" r="1.5"/><circle cx="521.1" cy="18.29" r="1.5"/><circle cx="521.83" cy="18.24" r="1.5"/><circle cx="522.55" cy="18.2" r="1.5"/><circle cx="523.27" cy="18.15" r="1.5"/><circle cx="524" cy="18.11" r="1.5"/><circle cx="524.72" cy="18.07" r="1.5"/><circle cx="525.45" cy="18.04" r="1.5"/><circle cx="526.17" cy="18.02" r="1.5"/><circle cx="526.9" cy="18" r="1.5"/><circle cx="527.62" cy="17.98" r="1.5"/><circle cx="528.35" cy="17.96" r="1.5"/><circle cx="529.07" cy="17.93" r="1.5"/><circle cx="529.79" cy="17.91" r="1.5"/><circle cx="530.52" cy="17.89" r="1.5"/><circle cx="531.24" cy="17.87" r="1.5"/><circle cx="531.97" cy="17.84" r="1.5"/><circle cx="532.69" cy="17.82" r="1.5"/><circle cx="533.42" cy="17.8" r="1.5"/><circle cx="534.14" cy="17.78" r="1.5"/><circle cx="534.87" cy="17.76" r="1.5"/><circle cx="535.59" cy="17.73" r="1.5"/><circle cx="536.32" cy="17.71" r="1.5"/><circle cx="537.04" cy="17.69" r="1.5"/><circle cx="537.76" cy="17.67" r="1.5"/><circle cx="538.49" cy="17.64" r="1.5"/><circle cx="539.21" cy="17.62" r="1.5"/></g>
<polyline points="467.49,62 468.21,68 468.94,74 469.66,78.5 470.38,81 471.11,83.5 471.83,84.3 472.56,84 473.28,79.17 474.01,74.37 474.73,69.42 475.46,64.31 476.18,59.15 476.91,54.17 477.63,49.59 478.35,45.56 479.08,42.13 479.8,39.31 480.53,37 481.25,35.07 481.98,33.4 482.7,31.91 483.43,30.56 484.15,29.36 484.87,28.3 485.6,27.41 486.32,26.67 487.05,26.06 487.77,25.53 488.5,25.04 489.22,24.54 489.95,24.02 490.67,23.48 491.4,22.95 492.12,22.46 492.84,22.04 493.57,21.7 494.29,21.41 495.02,21.15 495.74,20.89 496.47,20.63 497.19,20.38 497.92,20.16 498.64,20 499.37,19.89 500.09,19.82 500.81,19.77 501.54,19.7 502.26,19.61 502.99,19.49 503.71,19.36 504.44,19.24 505.16,19.14 505.89,19.07 506.61,19.02 507.33,18.98 508.06,18.94 508.78,18.89 509.51,18.84 510.23,18.79 510.96,18.73 511.68,18.68 512.41,18.63 513.13,18.59 513.86,18.55 514.58,18.51 515.3,18.48 516.03,18.44 516.75,18.41 517.48,18.37 518.2,18.34 518.93,18.31 519.65,18.28 520.38,18.25 521.1,18.23 521.83,18.2 522.55,18.18 523.27,18.15 524,18.12 524.72,18.09 525.45,18.06 526.17,18.03 526.9,18 527.62,17.98 528.35,17.96 529.07,17.93 529.79,17.91 530.52,17.89 531.24,17.87 531.97,17.84 532.69,17.82 533.42,17.8 534.14,17.78 534.87,17.76 535.59,17.73 536.32,17.71 537.04,17.7 537.76,17.68 538.49,17.67 539.21,17.67" fill="none" stroke="#ff7f0e" stroke-width="1.3" stroke-dasharray="1.3 2.1"/>
<rect x="463.9" y="13.4" width="78.9" height="96.8" stroke="#6a6a6a" stroke-width="0.9" fill="none"/>
<path d="M466.76 110.2v2.3M502.99 110.2v2.3M539.21 110.2v2.3M463.9 106.2h-2.3M463.9 84h-2.3M463.9 61.8h-2.3M463.9 39.6h-2.3M463.9 17.4h-2.3" stroke="#6a6a6a" stroke-width="0.9" fill="none"/>
<g font-family="'DejaVu Sans', 'Liberation Sans', sans-serif" font-size="6.4" fill="#111" stroke="#111" stroke-width="0.18">
<text x="466.76" y="119.5" text-anchor="middle">0</text>
<text x="502.99" y="119.5" text-anchor="middle">50</text>
<text x="539.21" y="119.5" text-anchor="middle">100</text>
<text x="459.45" y="108.6" text-anchor="end">0.2</text>
<text x="459.45" y="86.4" text-anchor="end">0.4</text>
<text x="459.45" y="64.2" text-anchor="end">0.6</text>
<text x="459.45" y="42" text-anchor="end">0.8</text>
<text x="459.45" y="19.8" text-anchor="end">1.0</text>
</g>
<g font-family="'Liberation Serif', 'DejaVu Serif', serif" font-size="10.2" fill="#111" stroke="#111" stroke-width="0.12">
<text x="487.5" y="11.05" textLength="31.6" lengthAdjust="spacingAndGlyphs">metrics</text>
<text transform="translate(446.6 69.15) rotate(-90)" textLength="27.3" lengthAdjust="spacingAndGlyphs">recall</text>
</g>
</g>
<g>
<polyline points="34.04,147.65 34.77,209.8 35.51,211 36.24,212.5 36.97,216.5 37.71,220 38.44,227 39.18,229.5 39.91,226.5 40.65,228.5 41.38,227 42.12,226.5 42.85,228.77 43.59,227.71 44.32,227.7 45.06,229.01 45.79,227.53 46.52,229.79 47.26,230.56 47.99,230.8 48.73,231.61 49.46,231.61 50.2,231.88 50.93,232.07 51.67,232.39 52.4,232.8 53.14,232.88 53.87,233.29 54.61,233.17 55.34,233.58 56.07,233.71 56.81,233.63 57.54,233.78 58.28,234.31 59.01,234.24 59.75,234.58 60.48,234.62 61.22,234.8 61.95,234.64 62.69,234.77 63.42,234.84 64.16,235.3 64.89,234.91 65.62,235.48 66.36,235.25 67.09,235.35 67.83,235.48 68.56,235.44 69.3,235.52 70.03,235.28 70.77,235.33 71.5,235.74 72.24,232.38 72.97,235.42 73.71,235.63 74.44,235.62 75.18,235.57 75.91,235.9 76.64,235.88 77.38,235.7 78.11,236.06 78.85,236.25 79.58,235.88 80.32,236.02 81.05,236.29 81.79,236.2 82.52,236.2 83.26,236.18 83.99,236.44 84.73,236.26 85.46,236.26 86.19,236.17 86.93,236.19 87.66,235.03 88.4,236.03 89.13,236.48 89.87,235.98 90.6,236.31 91.34,235.98 92.07,236.38 92.81,236.38 93.54,236.53 94.28,236.59 95.01,236.31 95.74,236.46 96.48,236.63 97.21,236.46 97.95,236.3 98.68,236.32 99.42,236.31 100.15,236.73 100.89,236.42 101.62,236.76 102.36,236.72 103.09,236.63 103.83,236.24 104.56,236.79 105.29,236.82 106.03,236.29 106.76,236.69" fill="none" stroke="#0973c8" stroke-width="1.3" stroke-linejoin="round" stroke-linecap="round"/>
<g fill="#0973c8"><circle cx="34.04" cy="147.65" r="1.5"/><circle cx="34.77" cy="209.8" r="1.5"/><circle cx="35.51" cy="211" r="1.5"/><circle cx="36.24" cy="212.5" r="1.5"/><circle cx="36.97" cy="216.5" r="1.5"/><circle cx="37.71" cy="220" r="1.5"/><circle cx="38.44" cy="227" r="1.5"/><circle cx="39.18" cy="229.5" r="1.5"/><circle cx="39.91" cy="226.5" r="1.5"/><circle cx="40.65" cy="228.5" r="1.5"/><circle cx="41.38" cy="227" r="1.5"/><circle cx="42.12" cy="226.5" r="1.5"/><circle cx="42.85" cy="228.77" r="1.5"/><circle cx="43.59" cy="227.71" r="1.5"/><circle cx="44.32" cy="227.7" r="1.5"/><circle cx="45.06" cy="229.01" r="1.5"/><circle cx="45.79" cy="227.53" r="1.5"/><circle cx="46.52" cy="229.79" r="1.5"/><circle cx="47.26" cy="230.56" r="1.5"/><circle cx="47.99" cy="230.8" r="1.5"/><circle cx="48.73" cy="231.61" r="1.5"/><circle cx="49.46" cy="231.61" r="1.5"/><circle cx="50.2" cy="231.88" r="1.5"/><circle cx="50.93" cy="232.07" r="1.5"/><circle cx="51.67" cy="232.39" r="1.5"/><circle cx="52.4" cy="232.8" r="1.5"/><circle cx="53.14" cy="232.88" r="1.5"/><circle cx="53.87" cy="233.29" r="1.5"/><circle cx="54.61" cy="233.17" r="1.5"/><circle cx="55.34" cy="233.58" r="1.5"/><circle cx="56.07" cy="233.71" r="1.5"/><circle cx="56.81" cy="233.63" r="1.5"/><circle cx="57.54" cy="233.78" r="1.5"/><circle cx="58.28" cy="234.31" r="1.5"/><circle cx="59.01" cy="234.24" r="1.5"/><circle cx="59.75" cy="234.58" r="1.5"/><circle cx="60.48" cy="234.62" r="1.5"/><circle cx="61.22" cy="234.8" r="1.5"/><circle cx="61.95" cy="234.64" r="1.5"/><circle cx="62.69" cy="234.77" r="1.5"/><circle cx="63.42" cy="234.84" r="1.5"/><circle cx="64.16" cy="235.3" r="1.5"/><circle cx="64.89" cy="234.91" r="1.5"/><circle cx="65.62" cy="235.48" r="1.5"/><circle cx="66.36" cy="235.25" r="1.5"/><circle cx="67.09" cy="235.35" r="1.5"/><circle cx="67.83" cy="235.48" r="1.5"/><circle cx="68.56" cy="235.44" r="1.5"/><circle cx="69.3" cy="235.52" r="1.5"/><circle cx="70.03" cy="235.28" r="1.5"/><circle cx="70.77" cy="235.33" r="1.5"/><circle cx="71.5" cy="235.74" r="1.5"/><circle cx="72.24" cy="232.38" r="1.5"/><circle cx="72.97" cy="235.42" r="1.5"/><circle cx="73.71" cy="235.63" r="1.5"/><circle cx="74.44" cy="235.62" r="1.5"/><circle cx="75.18" cy="235.57" r="1.5"/><circle cx="75.91" cy="235.9" r="1.5"/><circle cx="76.64" cy="235.88" r="1.5"/><circle cx="77.38" cy="235.7" r="1.5"/><circle cx="78.11" cy="236.06" r="1.5"/><circle cx="78.85" cy="236.25" r="1.5"/><circle cx="79.58" cy="235.88" r="1.5"/><circle cx="80.32" cy="236.02" r="1.5"/><circle cx="81.05" cy="236.29" r="1.5"/><circle cx="81.79" cy="236.2" r="1.5"/><circle cx="82.52" cy="236.2" r="1.5"/><circle cx="83.26" cy="236.18" r="1.5"/><circle cx="83.99" cy="236.44" r="1.5"/><circle cx="84.73" cy="236.26" r="1.5"/><circle cx="85.46" cy="236.26" r="1.5"/><circle cx="86.19" cy="236.17" r="1.5"/><circle cx="86.93" cy="236.19" r="1.5"/><circle cx="87.66" cy="235.03" r="1.5"/><circle cx="88.4" cy="236.03" r="1.5"/><circle cx="89.13" cy="236.48" r="1.5"/><circle cx="89.87" cy="235.98" r="1.5"/><circle cx="90.6" cy="236.31" r="1.5"/><circle cx="91.34" cy="235.98" r="1.5"/><circle cx="92.07" cy="236.38" r="1.5"/><circle cx="92.81" cy="236.38" r="1.5"/><circle cx="93.54" cy="236.53" r="1.5"/><circle cx="94.28" cy="236.59" r="1.5"/><circle cx="95.01" cy="236.31" r="1.5"/><circle cx="95.74" cy="236.46" r="1.5"/><circle cx="96.48" cy="236.63" r="1.5"/><circle cx="97.21" cy="236.46" r="1.5"/><circle cx="97.95" cy="236.3" r="1.5"/><circle cx="98.68" cy="236.32" r="1.5"/><circle cx="99.42" cy="236.31" r="1.5"/><circle cx="100.15" cy="236.73" r="1.5"/><circle cx="100.89" cy="236.42" r="1.5"/><circle cx="101.62" cy="236.76" r="1.5"/><circle cx="102.36" cy="236.72" r="1.5"/><circle cx="103.09" cy="236.63" r="1.5"/><circle cx="103.83" cy="236.24" r="1.5"/><circle cx="104.56" cy="236.79" r="1.5"/><circle cx="105.29" cy="236.82" r="1.5"/><circle cx="106.03" cy="236.29" r="1.5"/><circle cx="106.76" cy="236.69" r="1.5"/></g>
<polyline points="34.04,196.27 34.77,198.55 35.51,202.59 36.24,207.54 36.97,212.54 37.71,216.99 38.44,220.58 39.18,223.23 39.91,225.07 40.65,226.26 41.38,226.99 42.12,227.46 42.85,227.78 43.59,228.07 44.32,228.38 45.06,228.74 45.79,229.16 46.52,229.61 47.26,230.09 47.99,230.57 48.73,231.01 49.46,231.41 50.2,231.76 50.93,232.08 51.67,232.36 52.4,232.61 53.14,232.85 53.87,233.06 54.61,233.26 55.34,233.44 56.07,233.61 56.81,233.78 57.54,233.95 58.28,234.1 59.01,234.26 59.75,234.4 60.48,234.52 61.22,234.64 61.95,234.74 62.69,234.84 63.42,234.94 64.16,235.03 64.89,235.12 65.62,235.19 66.36,235.25 67.09,235.29 67.83,235.31 68.56,235.29 69.3,235.26 70.03,235.2 70.77,235.14 71.5,235.11 72.24,235.12 72.97,235.18 73.71,235.28 74.44,235.41 75.18,235.54 75.91,235.67 76.64,235.77 77.38,235.86 78.11,235.94 78.85,236 79.58,236.05 80.32,236.09 81.05,236.13 81.79,236.17 82.52,236.19 83.26,236.2 83.99,236.19 84.73,236.17 85.46,236.13 86.19,236.1 86.93,236.07 87.66,236.05 88.4,236.06 89.13,236.09 89.87,236.13 90.6,236.18 91.34,236.24 92.07,236.29 92.81,236.34 93.54,236.38 94.28,236.42 95.01,236.43 95.74,236.44 96.48,236.45 97.21,236.45 97.95,236.45 98.68,236.47 99.42,236.49 100.15,236.51 100.89,236.54 101.62,236.56 102.36,236.58 103.09,236.59 103.83,236.59 104.56,236.59 105.29,236.59 106.03,236.59 106.76,236.59" fill="none" stroke="#ff7f0e" stroke-width="1.3" stroke-dasharray="1.3 2.1"/>
<rect x="30.4" y="143.2" width="80" height="97.9" stroke="#6a6a6a" stroke-width="0.9" fill="none"/>
<path d="M33.3 241.1v2.3M70.03 241.1v2.3M106.76 241.1v2.3M30.4 238.3h-2.3M30.4 210.9h-2.3M30.4 183.5h-2.3M30.4 156.1h-2.3" stroke="#6a6a6a" stroke-width="0.9" fill="none"/>
<g font-family="'DejaVu Sans', 'Liberation Sans', sans-serif" font-size="6.4" fill="#111" stroke="#111" stroke-width="0.18">
<text x="33.3" y="250.4" text-anchor="middle">0</text>
<text x="70.03" y="250.4" text-anchor="middle">50</text>
<text x="106.76" y="250.4" text-anchor="middle">100</text>
<text x="25.95" y="240.7" text-anchor="end">0.0</text>
<text x="25.95" y="213.3" text-anchor="end">0.5</text>
<text x="25.95" y="185.9" text-anchor="end">1.0</text>
<text x="25.95" y="158.5" text-anchor="end">1.5</text>
</g>
<g font-family="'Liberation Serif', 'DejaVu Serif', serif" font-size="10.2" fill="#111" stroke="#111" stroke-width="0.12">
<text x="63.2" y="141.05" textLength="12.7" lengthAdjust="spacingAndGlyphs">val</text>
<text transform="translate(10.4 208.2) rotate(-90)" textLength="37.2" lengthAdjust="spacingAndGlyphs">box_loss</text>
</g>
</g>
<g>
<polyline points="141.13,147.6 141.86,165.5 142.59,166 143.33,166.8 144.06,169.5 144.79,173.1 145.52,177.03 146.26,180 146.99,182.5 147.72,185.33 148.46,189.55 149.19,193.86 149.92,197.95 150.65,202.68 151.39,201.94 152.12,210.51 152.85,213.98 153.58,216.52 154.32,217.7 155.05,218.93 155.78,218.79 156.52,220.27 157.25,222.43 157.98,223.47 158.71,223.76 159.45,224.52 160.18,225.54 160.91,226.23 161.65,226.29 162.38,227.15 163.11,227.67 163.84,227.79 164.58,228.54 165.31,228.91 166.04,229.33 166.77,230.01 167.51,229.97 168.24,230.53 168.97,231.21 169.71,231.25 170.44,231.46 171.17,231.9 171.9,231.46 172.64,230.57 173.37,231.58 174.1,232.38 174.84,232.64 175.57,232.95 176.3,233.24 177.03,232.98 177.77,233.39 178.5,233.42 179.23,231.72 179.96,233.6 180.7,233.83 181.43,233.95 182.16,234.5 182.9,234.51 183.63,234.37 184.36,234.61 185.09,234.68 185.83,234.51 186.56,234.97 187.29,233.05 188.03,234.82 188.76,234.9 189.49,235.1 190.22,235.27 190.96,235.46 191.69,235.45 192.42,235.32 193.15,235.18 193.89,234.36 194.62,234.18 195.35,235.49 196.09,235.88 196.82,235.57 197.55,235.68 198.28,235.92 199.02,235.97 199.75,236.23 200.48,236.03 201.22,235.93 201.95,236.31 202.68,236.09 203.41,236.14 204.15,236.3 204.88,236.28 205.61,236.62 206.34,236.24 207.08,236.62 207.81,236.56 208.54,236.3 209.28,236.32 210.01,236.79 210.74,236.43 211.47,236.41 212.21,236.53 212.94,236.75 213.67,236.72" fill="none" stroke="#0973c8" stroke-width="1.3" stroke-linejoin="round" stroke-linecap="round"/>
<g fill="#0973c8"><circle cx="141.13" cy="147.6" r="1.5"/><circle cx="141.86" cy="165.5" r="1.5"/><circle cx="142.59" cy="166" r="1.5"/><circle cx="143.33" cy="166.8" r="1.5"/><circle cx="144.06" cy="169.5" r="1.5"/><circle cx="144.79" cy="173.1" r="1.5"/><circle cx="145.52" cy="177.03" r="1.5"/><circle cx="146.26" cy="180" r="1.5"/><circle cx="146.99" cy="182.5" r="1.5"/><circle cx="147.72" cy="185.33" r="1.5"/><circle cx="148.46" cy="189.55" r="1.5"/><circle cx="149.19" cy="193.86" r="1.5"/><circle cx="149.92" cy="197.95" r="1.5"/><circle cx="150.65" cy="202.68" r="1.5"/><circle cx="151.39" cy="201.94" r="1.5"/><circle cx="152.12" cy="210.51" r="1.5"/><circle cx="152.85" cy="213.98" r="1.5"/><circle cx="153.58" cy="216.52" r="1.5"/><circle cx="154.32" cy="217.7" r="1.5"/><circle cx="155.05" cy="218.93" r="1.5"/><circle cx="155.78" cy="218.79" r="1.5"/><circle cx="156.52" cy="220.27" r="1.5"/><circle cx="157.25" cy="222.43" r="1.5"/><circle cx="157.98" cy="223.47" r="1.5"/><circle cx="158.71" cy="223.76" r="1.5"/><circle cx="159.45" cy="224.52" r="1.5"/><circle cx="160.18" cy="225.54" r="1.5"/><circle cx="160.91" cy="226.23" r="1.5"/><circle cx="161.65" cy="226.29" r="1.5"/><circle cx="162.38" cy="227.15" r="1.5"/><circle cx="163.11" cy="227.67" r="1.5"/><circle cx="163.84" cy="227.79" r="1.5"/><circle cx="164.58" cy="228.54" r="1.5"/><circle cx="165.31" cy="228.91" r="1.5"/><circle cx="166.04" cy="229.33" r="1.5"/><circle cx="166.77" cy="230.01" r="1.5"/><circle cx="167.51" cy="229.97" r="1.5"/><circle cx="168.24" cy="230.53" r="1.5"/><circle cx="168.97" cy="231.21" r="1.5"/><circle cx="169.71" cy="231.25" r="1.5"/><circle cx="170.44" cy="231.46" r="1.5"/><circle cx="171.17" cy="231.9" r="1.5"/><circle cx="171.9" cy="231.46" r="1.5"/><circle cx="172.64" cy="230.57" r="1.5"/><circle cx="173.37" cy="231.58" r="1.5"/><circle cx="174.1" cy="232.38" r="1.5"/><circle cx="174.84" cy="232.64" r="1.5"/><circle cx="175.57" cy="232.95" r="1.5"/><circle cx="176.3" cy="233.24" r="1.5"/><circle cx="177.03" cy="232.98" r="1.5"/><circle cx="177.77" cy="233.39" r="1.5"/><circle cx="178.5" cy="233.42" r="1.5"/><circle cx="179.23" cy="231.72" r="1.5"/><circle cx="179.96" cy="233.6" r="1.5"/><circle cx="180.7" cy="233.83" r="1.5"/><circle cx="181.43" cy="233.95" r="1.5"/><circle cx="182.16" cy="234.5" r="1.5"/><circle cx="182.9" cy="234.51" r="1.5"/><circle cx="183.63" cy="234.37" r="1.5"/><circle cx="184.36" cy="234.61" r="1.5"/><circle cx="185.09" cy="234.68" r="1.5"/><circle cx="185.83" cy="234.51" r="1.5"/><circle cx="186.56" cy="234.97" r="1.5"/><circle cx="187.29" cy="233.05" r="1.5"/><circle cx="188.03" cy="234.82" r="1.5"/><circle cx="188.76" cy="234.9" r="1.5"/><circle cx="189.49" cy="235.1" r="1.5"/><circle cx="190.22" cy="235.27" r="1.5"/><circle cx="190.96" cy="235.46" r="1.5"/><circle cx="191.69" cy="235.45" r="1.5"/><circle cx="192.42" cy="235.32" r="1.5"/><circle cx="193.15" cy="235.18" r="1.5"/><circle cx="193.89" cy="234.36" r="1.5"/><circle cx="194.62" cy="234.18" r="1.5"/><circle cx="195.35" cy="235.49" r="1.5"/><circle cx="196.09" cy="235.88" r="1.5"/><circle cx="196.82" cy="235.57" r="1.5"/><circle cx="197.55" cy="235.68" r="1.5"/><circle cx="198.28" cy="235.92" r="1.5"/><circle cx="199.02" cy="235.97" r="1.5"/><circle cx="199.75" cy="236.23" r="1.5"/><circle cx="200.48" cy="236.03" r="1.5"/><circle cx="201.22" cy="235.93" r="1.5"/><circle cx="201.95" cy="236.31" r="1.5"/><circle cx="202.68" cy="236.09" r="1.5"/><circle cx="203.41" cy="236.14" r="1.5"/><circle cx="204.15" cy="236.3" r="1.5"/><circle cx="204.88" cy="236.28" r="1.5"/><circle cx="205.61" cy="236.62" r="1.5"/><circle cx="206.34" cy="236.24" r="1.5"/><circle cx="207.08" cy="236.62" r="1.5"/><circle cx="207.81" cy="236.56" r="1.5"/><circle cx="208.54" cy="236.3" r="1.5"/><circle cx="209.28" cy="236.32" r="1.5"/><circle cx="210.01" cy="236.79" r="1.5"/><circle cx="210.74" cy="236.43" r="1.5"/><circle cx="211.47" cy="236.41" r="1.5"/><circle cx="212.21" cy="236.53" r="1.5"/><circle cx="212.94" cy="236.75" r="1.5"/><circle cx="213.67" cy="236.72" r="1.5"/></g>
<polyline points="141.13,162.52 141.86,163.49 142.59,165.3 143.33,167.72 144.06,170.53 144.79,173.55 145.52,176.71 146.26,179.96 146.99,183.3 147.72,186.74 148.46,190.27 149.19,193.87 149.92,197.5 150.65,201.1 151.39,204.57 152.12,207.84 152.85,210.8 153.58,213.4 154.32,215.62 155.05,217.47 155.78,219.04 156.52,220.37 157.25,221.53 157.98,222.57 158.71,223.49 159.45,224.33 160.18,225.07 160.91,225.75 161.65,226.36 162.38,226.92 163.11,227.44 163.84,227.93 164.58,228.4 165.31,228.86 166.04,229.29 166.77,229.7 167.51,230.08 168.24,230.42 168.97,230.72 169.71,230.97 170.44,231.19 171.17,231.37 171.9,231.54 172.64,231.73 173.37,231.94 174.1,232.16 174.84,232.39 175.57,232.6 176.3,232.79 177.03,232.94 177.77,233.07 178.5,233.19 179.23,233.33 179.96,233.5 180.7,233.69 181.43,233.88 182.16,234.06 182.9,234.22 183.63,234.33 184.36,234.41 185.09,234.46 185.83,234.5 186.56,234.55 187.29,234.61 188.03,234.7 188.76,234.81 189.49,234.92 190.22,235.02 190.96,235.08 191.69,235.11 192.42,235.12 193.15,235.12 193.89,235.14 194.62,235.2 195.35,235.3 196.09,235.42 196.82,235.55 197.55,235.68 198.28,235.8 199.02,235.9 199.75,235.97 200.48,236.04 201.22,236.09 201.95,236.14 202.68,236.18 203.41,236.23 204.15,236.28 204.88,236.32 205.61,236.36 206.34,236.4 207.08,236.43 207.81,236.45 208.54,236.47 209.28,236.49 210.01,236.51 210.74,236.53 211.47,236.55 212.21,236.58 212.94,236.6 213.67,236.61" fill="none" stroke="#ff7f0e" stroke-width="1.3" stroke-dasharray="1.3 2.1"/>
<rect x="137.5" y="143.2" width="79.8" height="97.9" stroke="#6a6a6a" stroke-width="0.9" fill="none"/>
<path d="M140.39 241.1v2.3M177.03 241.1v2.3M213.67 241.1v2.3M137.5 238.3h-2.3M137.5 222.9h-2.3M137.5 207.5h-2.3M137.5 192.1h-2.3M137.5 176.7h-2.3M137.5 161.1h-2.3M137.5 145.6h-2.3" stroke="#6a6a6a" stroke-width="0.9" fill="none"/>
<g font-family="'DejaVu Sans', 'Liberation Sans', sans-serif" font-size="6.4" fill="#111" stroke="#111" stroke-width="0.18">
<text x="140.39" y="250.4" text-anchor="middle">0</text>
<text x="177.03" y="250.4" text-anchor="middle">50</text>
<text x="213.67" y="250.4" text-anchor="middle">100</text>
<text x="133.05" y="240.7" text-anchor="end">0.0</text>
<text x="133.05" y="225.3" text-anchor="end">0.5</text>
<text x="133.05" y="209.9" text-anchor="end">1.0</text>
<text x="133.05" y="194.5" text-anchor="end">1.5</text>
<text x="133.05" y="179.1" text-anchor="end">2.0</text>
<text x="133.05" y="163.5" text-anchor="end">2.5</text>
<text x="133.05" y="148" text-anchor="end">3.0</text>
</g>
<g font-family="'Liberation Serif', 'DejaVu Serif', serif" font-size="10.2" fill="#111" stroke="#111" stroke-width="0.12">
<text x="169.5" y="141.95" textLength="12.8" lengthAdjust="spacingAndGlyphs">val</text>
<text transform="translate(119 205.75) rotate(-90)" textLength="33.3" lengthAdjust="spacingAndGlyphs">cls_loss</text>
</g>
</g>
<g>
<polyline points="248.94,147.65 249.67,211 250.41,214 251.14,217 251.87,220.4 252.61,225.5 253.34,230.6 254.08,223 254.81,221 255.55,220.4 256.28,223 257.02,224.6 257.75,223.52 258.49,222.65 259.22,226.09 259.96,229.56 260.69,223.12 261.42,223.94 262.16,224.88 262.89,225.63 263.63,226.4 264.36,226.73 265.1,227.54 265.83,228.18 266.57,228.65 267.3,228.82 268.04,229.42 268.77,229.78 269.51,230.19 270.24,230.91 270.97,232.51 271.71,232.76 272.44,232.76 273.18,232.08 273.91,231.79 274.65,231.16 275.38,230.99 276.12,232.75 276.85,233.83 277.59,234.62 278.32,234.61 279.06,234.71 279.79,234.23 280.52,233.78 281.26,234.51 281.99,235.45 282.73,235.26 283.46,235.51 284.2,235.82 284.93,235.79 285.67,235.28 286.4,235.16 287.14,234.99 287.87,235.05 288.61,235.7 289.34,235.57 290.08,235.76 290.81,236.2 291.54,236.19 292.28,236.33 293.01,236.29 293.75,236.29 294.48,236.07 295.22,236.27 295.95,236.07 296.69,236.09 297.42,236.25 298.16,236.25 298.89,236.41 299.63,236.09 300.36,236.21 301.09,236.17 301.83,236.35 302.56,236.41 303.3,236.45 304.03,236.26 304.77,236.38 305.5,236.42 306.24,236.24 306.97,236.5 307.71,236.35 308.44,236.27 309.18,236.74 309.91,236.3 310.64,236.63 311.38,236.52 312.11,236.32 312.85,236.55 313.58,236.51 314.32,236.57 315.05,236.77 315.79,236.8 316.52,236.64 317.26,236.49 317.99,236.54 318.73,236.72 319.46,236.65 320.19,236.39 320.93,236.67 321.66,236.83" fill="none" stroke="#0973c8" stroke-width="1.3" stroke-linejoin="round" stroke-linecap="round"/>
<g fill="#0973c8"><circle cx="248.94" cy="147.65" r="1.5"/><circle cx="249.67" cy="211" r="1.5"/><circle cx="250.41" cy="214" r="1.5"/><circle cx="251.14" cy="217" r="1.5"/><circle cx="251.87" cy="220.4" r="1.5"/><circle cx="252.61" cy="225.5" r="1.5"/><circle cx="253.34" cy="230.6" r="1.5"/><circle cx="254.08" cy="223" r="1.5"/><circle cx="254.81" cy="221" r="1.5"/><circle cx="255.55" cy="220.4" r="1.5"/><circle cx="256.28" cy="223" r="1.5"/><circle cx="257.02" cy="224.6" r="1.5"/><circle cx="257.75" cy="223.52" r="1.5"/><circle cx="258.49" cy="222.65" r="1.5"/><circle cx="259.22" cy="226.09" r="1.5"/><circle cx="259.96" cy="229.56" r="1.5"/><circle cx="260.69" cy="223.12" r="1.5"/><circle cx="261.42" cy="223.94" r="1.5"/><circle cx="262.16" cy="224.88" r="1.5"/><circle cx="262.89" cy="225.63" r="1.5"/><circle cx="263.63" cy="226.4" r="1.5"/><circle cx="264.36" cy="226.73" r="1.5"/><circle cx="265.1" cy="227.54" r="1.5"/><circle cx="265.83" cy="228.18" r="1.5"/><circle cx="266.57" cy="228.65" r="1.5"/><circle cx="267.3" cy="228.82" r="1.5"/><circle cx="268.04" cy="229.42" r="1.5"/><circle cx="268.77" cy="229.78" r="1.5"/><circle cx="269.51" cy="230.19" r="1.5"/><circle cx="270.24" cy="230.91" r="1.5"/><circle cx="270.97" cy="232.51" r="1.5"/><circle cx="271.71" cy="232.76" r="1.5"/><circle cx="272.44" cy="232.76" r="1.5"/><circle cx="273.18" cy="232.08" r="1.5"/><circle cx="273.91" cy="231.79" r="1.5"/><circle cx="274.65" cy="231.16" r="1.5"/><circle cx="275.38" cy="230.99" r="1.5"/><circle cx="276.12" cy="232.75" r="1.5"/><circle cx="276.85" cy="233.83" r="1.5"/><circle cx="277.59" cy="234.62" r="1.5"/><circle cx="278.32" cy="234.61" r="1.5"/><circle cx="279.06" cy="234.71" r="1.5"/><circle cx="279.79" cy="234.23" r="1.5"/><circle cx="280.52" cy="233.78" r="1.5"/><circle cx="281.26" cy="234.51" r="1.5"/><circle cx="281.99" cy="235.45" r="1.5"/><circle cx="282.73" cy="235.26" r="1.5"/><circle cx="283.46" cy="235.51" r="1.5"/><circle cx="284.2" cy="235.82" r="1.5"/><circle cx="284.93" cy="235.79" r="1.5"/><circle cx="285.67" cy="235.28" r="1.5"/><circle cx="286.4" cy="235.16" r="1.5"/><circle cx="287.14" cy="234.99" r="1.5"/><circle cx="287.87" cy="235.05" r="1.5"/><circle cx="288.61" cy="235.7" r="1.5"/><circle cx="289.34" cy="235.57" r="1.5"/><circle cx="290.08" cy="235.76" r="1.5"/><circle cx="290.81" cy="236.2" r="1.5"/><circle cx="291.54" cy="236.19" r="1.5"/><circle cx="292.28" cy="236.33" r="1.5"/><circle cx="293.01" cy="236.29" r="1.5"/><circle cx="293.75" cy="236.29" r="1.5"/><circle cx="294.48" cy="236.07" r="1.5"/><circle cx="295.22" cy="236.27" r="1.5"/><circle cx="295.95" cy="236.07" r="1.5"/><circle cx="296.69" cy="236.09" r="1.5"/><circle cx="297.42" cy="236.25" r="1.5"/><circle cx="298.16" cy="236.25" r="1.5"/><circle cx="298.89" cy="236.41" r="1.5"/><circle cx="299.63" cy="236.09" r="1.5"/><circle cx="300.36" cy="236.21" r="1.5"/><circle cx="301.09" cy="236.17" r="1.5"/><circle cx="301.83" cy="236.35" r="1.5"/><circle cx="302.56" cy="236.41" r="1.5"/><circle cx="303.3" cy="236.45" r="1.5"/><circle cx="304.03" cy="236.26" r="1.5"/><circle cx="304.77" cy="236.38" r="1.5"/><circle cx="305.5" cy="236.42" r="1.5"/><circle cx="306.24" cy="236.24" r="1.5"/><circle cx="306.97" cy="236.5" r="1.5"/><circle cx="307.71" cy="236.35" r="1.5"/><circle cx="308.44" cy="236.27" r="1.5"/><circle cx="309.18" cy="236.74" r="1.5"/><circle cx="309.91" cy="236.3" r="1.5"/><circle cx="310.64" cy="236.63" r="1.5"/><circle cx="311.38" cy="236.52" r="1.5"/><circle cx="312.11" cy="236.32" r="1.5"/><circle cx="312.85" cy="236.55" r="1.5"/><circle cx="313.58" cy="236.51" r="1.5"/><circle cx="314.32" cy="236.57" r="1.5"/><circle cx="315.05" cy="236.77" r="1.5"/><circle cx="315.79" cy="236.8" r="1.5"/><circle cx="316.52" cy="236.64" r="1.5"/><circle cx="317.26" cy="236.49" r="1.5"/><circle cx="317.99" cy="236.54" r="1.5"/><circle cx="318.73" cy="236.72" r="1.5"/><circle cx="319.46" cy="236.65" r="1.5"/><circle cx="320.19" cy="236.39" r="1.5"/><circle cx="320.93" cy="236.67" r="1.5"/><circle cx="321.66" cy="236.83" r="1.5"/></g>
<polyline points="248.94,198.3 249.67,200.63 250.41,204.66 251.14,209.43 251.87,213.98 252.61,217.67 253.34,220.26 254.08,221.82 254.81,222.67 255.55,223.1 256.28,223.39 257.02,223.68 257.75,224.01 258.49,224.36 259.22,224.68 259.96,224.96 260.69,225.2 261.42,225.43 262.16,225.69 262.89,226.02 263.63,226.43 264.36,226.9 265.1,227.41 265.83,227.93 266.57,228.45 267.3,228.96 268.04,229.48 268.77,229.99 269.51,230.49 270.24,230.94 270.97,231.33 271.71,231.64 272.44,231.85 273.18,232.01 273.91,232.16 274.65,232.35 275.38,232.6 276.12,232.92 276.85,233.27 277.59,233.62 278.32,233.93 279.06,234.19 279.79,234.41 280.52,234.6 281.26,234.78 281.99,234.95 282.73,235.11 283.46,235.23 284.2,235.32 284.93,235.36 285.67,235.38 286.4,235.4 287.14,235.43 287.87,235.49 288.61,235.57 289.34,235.69 290.08,235.81 290.81,235.92 291.54,236.03 292.28,236.1 293.01,236.15 293.75,236.18 294.48,236.19 295.22,236.19 295.95,236.19 296.69,236.2 297.42,236.21 298.16,236.22 298.89,236.23 299.63,236.24 300.36,236.26 301.09,236.28 301.83,236.3 302.56,236.32 303.3,236.34 304.03,236.35 304.77,236.36 305.5,236.37 306.24,236.38 306.97,236.4 307.71,236.41 308.44,236.43 309.18,236.45 309.91,236.47 310.64,236.48 311.38,236.5 312.11,236.52 312.85,236.54 313.58,236.56 314.32,236.59 315.05,236.61 315.79,236.62 316.52,236.62 317.26,236.62 317.99,236.62 318.73,236.62 319.46,236.63 320.19,236.64 320.93,236.64 321.66,236.65" fill="none" stroke="#ff7f0e" stroke-width="1.3" stroke-dasharray="1.3 2.1"/>
<rect x="245.3" y="143.2" width="80" height="97.9" stroke="#6a6a6a" stroke-width="0.9" fill="none"/>
<path d="M248.2 241.1v2.3M284.93 241.1v2.3M321.66 241.1v2.3M245.3 239.3h-2.3M245.3 216.7h-2.3M245.3 194.1h-2.3M245.3 171.5h-2.3M245.3 148.9h-2.3" stroke="#6a6a6a" stroke-width="0.9" fill="none"/>
<g font-family="'DejaVu Sans', 'Liberation Sans', sans-serif" font-size="6.4" fill="#111" stroke="#111" stroke-width="0.18">
<text x="248.2" y="250.4" text-anchor="middle">0</text>
<text x="284.93" y="250.4" text-anchor="middle">50</text>
<text x="321.66" y="250.4" text-anchor="middle">100</text>
<text x="240.85" y="241.7" text-anchor="end">0.0</text>
<text x="240.85" y="219.1" text-anchor="end">0.5</text>
<text x="240.85" y="196.5" text-anchor="end">1.0</text>
<text x="240.85" y="173.9" text-anchor="end">1.5</text>
<text x="240.85" y="151.3" text-anchor="end">2.0</text>
</g>
<g font-family="'Liberation Serif', 'DejaVu Serif', serif" font-size="10.2" fill="#111" stroke="#111" stroke-width="0.12">
<text x="279.25" y="141.95" textLength="12.7" lengthAdjust="spacingAndGlyphs">val</text>
<text transform="translate(226 207.2) rotate(-90)" textLength="33.2" lengthAdjust="spacingAndGlyphs">dfl_loss</text>
</g>
</g>
<g>
<polyline points="357.18,236.61 357.93,234.34 358.67,231.98 359.41,228.67 360.16,225.84 360.9,223.94 361.64,222.53 362.39,221.58 363.13,218.28 363.88,212.61 364.62,206.94 365.36,201.27 366.11,192.76 366.85,181.42 367.6,173.86 368.34,167.72 369.08,163.94 369.83,161.57 370.57,159.4 371.31,157.51 372.06,156.09 372.8,154.77 373.55,153.45 374.29,152.31 375.03,151.37 375.78,150.61 376.52,150.05 377.26,149.76 378.01,150.05 378.75,150.14 379.5,149.76 380.24,149.29 380.98,149.01 381.73,148.72 382.47,148.53 383.21,148.35 383.96,148.27 384.7,148.2 385.45,148.13 386.19,148.06 386.93,148.02 387.68,147.99 388.42,147.95 389.17,147.91 389.91,147.87 390.65,147.86 391.4,147.85 392.14,147.84 392.88,147.83 393.63,147.83 394.37,147.82 395.12,147.82 395.86,147.82 396.6,147.82 397.35,147.82 398.09,147.81 398.83,147.81 399.58,147.81 400.32,147.81 401.07,147.81 401.81,147.8 402.55,147.8 403.3,147.8 404.04,147.8 404.79,147.8 405.53,147.8 406.27,147.79 407.02,147.79 407.76,147.79 408.5,147.79 409.25,147.79 409.99,147.78 410.74,147.78 411.48,147.78 412.22,147.78 412.97,147.78 413.71,147.77 414.45,147.77 415.2,147.77 415.94,147.77 416.69,147.77 417.43,147.76 418.17,147.76 418.92,147.76 419.66,147.76 420.4,147.76 421.15,147.76 421.89,147.75 422.64,147.75 423.38,147.75 424.12,147.75 424.87,147.75 425.61,147.74 426.36,147.74 427.1,147.74 427.84,147.74 428.59,147.74 429.33,147.73 430.07,147.73 430.82,147.73" fill="none" stroke="#0973c8" stroke-width="1.3" stroke-linejoin="round" stroke-linecap="round"/>
<g fill="#0973c8"><circle cx="357.18" cy="236.61" r="1.5"/><circle cx="357.93" cy="234.34" r="1.5"/><circle cx="358.67" cy="231.98" r="1.5"/><circle cx="359.41" cy="228.67" r="1.5"/><circle cx="360.16" cy="225.84" r="1.5"/><circle cx="360.9" cy="223.94" r="1.5"/><circle cx="361.64" cy="222.53" r="1.5"/><circle cx="362.39" cy="221.58" r="1.5"/><circle cx="363.13" cy="218.28" r="1.5"/><circle cx="363.88" cy="212.61" r="1.5"/><circle cx="364.62" cy="206.94" r="1.5"/><circle cx="365.36" cy="201.27" r="1.5"/><circle cx="366.11" cy="192.76" r="1.5"/><circle cx="366.85" cy="181.42" r="1.5"/><circle cx="367.6" cy="173.86" r="1.5"/><circle cx="368.34" cy="167.72" r="1.5"/><circle cx="369.08" cy="163.94" r="1.5"/><circle cx="369.83" cy="161.57" r="1.5"/><circle cx="370.57" cy="159.4" r="1.5"/><circle cx="371.31" cy="157.51" r="1.5"/><circle cx="372.06" cy="156.09" r="1.5"/><circle cx="372.8" cy="154.77" r="1.5"/><circle cx="373.55" cy="153.45" r="1.5"/><circle cx="374.29" cy="152.31" r="1.5"/><circle cx="375.03" cy="151.37" r="1.5"/><circle cx="375.78" cy="150.61" r="1.5"/><circle cx="376.52" cy="150.05" r="1.5"/><circle cx="377.26" cy="149.76" r="1.5"/><circle cx="378.01" cy="150.05" r="1.5"/><circle cx="378.75" cy="150.14" r="1.5"/><circle cx="379.5" cy="149.76" r="1.5"/><circle cx="380.24" cy="149.29" r="1.5"/><circle cx="380.98" cy="149.01" r="1.5"/><circle cx="381.73" cy="148.72" r="1.5"/><circle cx="382.47" cy="148.53" r="1.5"/><circle cx="383.21" cy="148.35" r="1.5"/><circle cx="383.96" cy="148.27" r="1.5"/><circle cx="384.7" cy="148.2" r="1.5"/><circle cx="385.45" cy="148.13" r="1.5"/><circle cx="386.19" cy="148.06" r="1.5"/><circle cx="386.93" cy="148.02" r="1.5"/><circle cx="387.68" cy="147.99" r="1.5"/><circle cx="388.42" cy="147.95" r="1.5"/><circle cx="389.17" cy="147.91" r="1.5"/><circle cx="389.91" cy="147.87" r="1.5"/><circle cx="390.65" cy="147.86" r="1.5"/><circle cx="391.4" cy="147.85" r="1.5"/><circle cx="392.14" cy="147.84" r="1.5"/><circle cx="392.88" cy="147.83" r="1.5"/><circle cx="393.63" cy="147.83" r="1.5"/><circle cx="394.37" cy="147.82" r="1.5"/><circle cx="395.12" cy="147.82" r="1.5"/><circle cx="395.86" cy="147.82" r="1.5"/><circle cx="396.6" cy="147.82" r="1.5"/><circle cx="397.35" cy="147.82" r="1.5"/><circle cx="398.09" cy="147.81" r="1.5"/><circle cx="398.83" cy="147.81" r="1.5"/><circle cx="399.58" cy="147.81" r="1.5"/><circle cx="400.32" cy="147.81" r="1.5"/><circle cx="401.07" cy="147.81" r="1.5"/><circle cx="401.81" cy="147.8" r="1.5"/><circle cx="402.55" cy="147.8" r="1.5"/><circle cx="403.3" cy="147.8" r="1.5"/><circle cx="404.04" cy="147.8" r="1.5"/><circle cx="404.79" cy="147.8" r="1.5"/><circle cx="405.53" cy="147.8" r="1.5"/><circle cx="406.27" cy="147.79" r="1.5"/><circle cx="407.02" cy="147.79" r="1.5"/><circle cx="407.76" cy="147.79" r="1.5"/><circle cx="408.5" cy="147.79" r="1.5"/><circle cx="409.25" cy="147.79" r="1.5"/><circle cx="409.99" cy="147.78" r="1.5"/><circle cx="410.74" cy="147.78" r="1.5"/><circle cx="411.48" cy="147.78" r="1.5"/><circle cx="412.22" cy="147.78" r="1.5"/><circle cx="412.97" cy="147.78" r="1.5"/><circle cx="413.71" cy="147.77" r="1.5"/><circle cx="414.45" cy="147.77" r="1.5"/><circle cx="415.2" cy="147.77" r="1.5"/><circle cx="415.94" cy="147.77" r="1.5"/><circle cx="416.69" cy="147.77" r="1.5"/><circle cx="417.43" cy="147.76" r="1.5"/><circle cx="418.17" cy="147.76" r="1.5"/><circle cx="418.92" cy="147.76" r="1.5"/><circle cx="419.66" cy="147.76" r="1.5"/><circle cx="420.4" cy="147.76" r="1.5"/><circle cx="421.15" cy="147.76" r="1.5"/><circle cx="421.89" cy="147.75" r="1.5"/><circle cx="422.64" cy="147.75" r="1.5"/><circle cx="423.38" cy="147.75" r="1.5"/><circle cx="424.12" cy="147.75" r="1.5"/><circle cx="424.87" cy="147.75" r="1.5"/><circle cx="425.61" cy="147.74" r="1.5"/><circle cx="426.36" cy="147.74" r="1.5"/><circle cx="427.1" cy="147.74" r="1.5"/><circle cx="427.84" cy="147.74" r="1.5"/><circle cx="428.59" cy="147.74" r="1.5"/><circle cx="429.33" cy="147.73" r="1.5"/><circle cx="430.07" cy="147.73" r="1.5"/><circle cx="430.82" cy="147.73" r="1.5"/></g>
<polyline points="357.18,231.81 357.93,231.16 358.67,229.94 359.41,228.23 360.16,226.12 360.9,223.65 361.64,220.77 362.39,217.38 363.13,213.37 363.88,208.67 364.62,203.29 365.36,197.36 366.11,191.11 366.85,184.84 367.6,178.88 368.34,173.48 369.08,168.83 369.83,164.96 370.57,161.82 371.31,159.3 372.06,157.27 372.8,155.62 373.55,154.27 374.29,153.15 375.03,152.23 375.78,151.49 376.52,150.91 377.26,150.47 378.01,150.11 378.75,149.83 379.5,149.57 380.24,149.34 380.98,149.11 381.73,148.9 382.47,148.71 383.21,148.54 383.96,148.4 384.7,148.28 385.45,148.19 386.19,148.12 386.93,148.06 387.68,148.01 388.42,147.97 389.17,147.94 389.91,147.91 390.65,147.89 391.4,147.87 392.14,147.85 392.88,147.84 393.63,147.84 394.37,147.83 395.12,147.83 395.86,147.82 396.6,147.82 397.35,147.82 398.09,147.81 398.83,147.81 399.58,147.81 400.32,147.81 401.07,147.81 401.81,147.8 402.55,147.8 403.3,147.8 404.04,147.8 404.79,147.8 405.53,147.8 406.27,147.79 407.02,147.79 407.76,147.79 408.5,147.79 409.25,147.79 409.99,147.78 410.74,147.78 411.48,147.78 412.22,147.78 412.97,147.78 413.71,147.77 414.45,147.77 415.2,147.77 415.94,147.77 416.69,147.77 417.43,147.76 418.17,147.76 418.92,147.76 419.66,147.76 420.4,147.76 421.15,147.76 421.89,147.75 422.64,147.75 423.38,147.75 424.12,147.75 424.87,147.75 425.61,147.74 426.36,147.74 427.1,147.74 427.84,147.74 428.59,147.74 429.33,147.74 430.07,147.73 430.82,147.73" fill="none" stroke="#ff7f0e" stroke-width="1.3" stroke-dasharray="1.3 2.1"/>
<rect x="353.5" y="143.3" width="81" height="97.9" stroke="#6a6a6a" stroke-width="0.9" fill="none"/>
<path d="M356.44 241.2v2.3M393.63 241.2v2.3M430.82 241.2v2.3M353.5 223h-2.3M353.5 204.1h-2.3M353.5 185.2h-2.3M353.5 166.3h-2.3M353.5 147.4h-2.3" stroke="#6a6a6a" stroke-width="0.9" fill="none"/>
<g font-family="'DejaVu Sans', 'Liberation Sans', sans-serif" font-size="6.4" fill="#111" stroke="#111" stroke-width="0.18">
<text x="356.44" y="250.5" text-anchor="middle">0</text>
<text x="393.63" y="250.5" text-anchor="middle">50</text>
<text x="430.82" y="250.5" text-anchor="middle">100</text>
<text x="349.05" y="225.4" text-anchor="end">0.2</text>
<text x="349.05" y="206.5" text-anchor="end">0.4</text>
<text x="349.05" y="187.6" text-anchor="end">0.6</text>
<text x="349.05" y="168.7" text-anchor="end">0.8</text>
<text x="349.05" y="149.8" text-anchor="end">1.0</text>
</g>
<g font-family="'Liberation Serif', 'DejaVu Serif', serif" font-size="10.2" fill="#111" stroke="#111" stroke-width="0.12">
<text x="379.3" y="141.75" textLength="31.8" lengthAdjust="spacingAndGlyphs">metrics</text>
<text transform="translate(335 205.2) rotate(-90)" textLength="31.2" lengthAdjust="spacingAndGlyphs">mAP50</text>
</g>
</g>
<g>
<polyline points="468.05,236.73 468.76,234.46 469.48,232.09 470.19,228.78 470.91,225.94 471.63,224.05 472.34,222.63 473.06,221.68 473.78,218.37 474.49,212.69 475.21,207.01 475.92,201.34 476.64,192.82 477.36,181.46 478.07,173.89 478.79,167.74 479.51,163.95 480.22,161.59 480.94,159.41 481.65,157.52 482.37,156.1 483.09,154.77 483.8,153.45 484.52,152.31 485.24,151.37 485.95,150.61 486.67,150.04 487.38,149.76 488.1,150.04 488.82,150.14 489.53,149.76 490.25,149.28 490.97,149 491.68,148.72 492.4,148.53 493.11,148.34 493.83,148.27 494.55,148.2 495.26,148.12 495.98,148.05 496.7,148.02 497.41,147.98 498.13,147.94 498.84,147.9 499.56,147.86 500.28,147.85 500.99,147.85 501.71,147.84 502.43,147.83 503.14,147.82 503.86,147.81 504.57,147.81 505.29,147.81 506.01,147.81 506.72,147.81 507.44,147.81 508.16,147.8 508.87,147.8 509.59,147.8 510.3,147.8 511.02,147.8 511.74,147.79 512.45,147.79 513.17,147.79 513.89,147.79 514.6,147.79 515.32,147.78 516.03,147.78 516.75,147.78 517.47,147.78 518.18,147.78 518.9,147.77 519.62,147.77 520.33,147.77 521.05,147.77 521.76,147.77 522.48,147.77 523.2,147.76 523.91,147.76 524.63,147.76 525.35,147.76 526.06,147.76 526.78,147.75 527.49,147.75 528.21,147.75 528.93,147.75 529.64,147.75 530.36,147.74 531.08,147.74 531.79,147.74 532.51,147.74 533.22,147.74 533.94,147.74 534.66,147.73 535.37,147.73 536.09,147.73 536.81,147.73 537.52,147.73 538.24,147.72 538.95,147.72" fill="none" stroke="#0973c8" stroke-width="1.3" stroke-linejoin="round" stroke-linecap="round"/>
<g fill="#0973c8"><circle cx="468.05" cy="236.73" r="1.5"/><circle cx="468.76" cy="234.46" r="1.5"/><circle cx="469.48" cy="232.09" r="1.5"/><circle cx="470.19" cy="228.78" r="1.5"/><circle cx="470.91" cy="225.94" r="1.5"/><circle cx="471.63" cy="224.05" r="1.5"/><circle cx="472.34" cy="222.63" r="1.5"/><circle cx="473.06" cy="221.68" r="1.5"/><circle cx="473.78" cy="218.37" r="1.5"/><circle cx="474.49" cy="212.69" r="1.5"/><circle cx="475.21" cy="207.01" r="1.5"/><circle cx="475.92" cy="201.34" r="1.5"/><circle cx="476.64" cy="192.82" r="1.5"/><circle cx="477.36" cy="181.46" r="1.5"/><circle cx="478.07" cy="173.89" r="1.5"/><circle cx="478.79" cy="167.74" r="1.5"/><circle cx="479.51" cy="163.95" r="1.5"/><circle cx="480.22" cy="161.59" r="1.5"/><circle cx="480.94" cy="159.41" r="1.5"/><circle cx="481.65" cy="157.52" r="1.5"/><circle cx="482.37" cy="156.1" r="1.5"/><circle cx="483.09" cy="154.77" r="1.5"/><circle cx="483.8" cy="153.45" r="1.5"/><circle cx="484.52" cy="152.31" r="1.5"/><circle cx="485.24" cy="151.37" r="1.5"/><circle cx="485.95" cy="150.61" r="1.5"/><circle cx="486.67" cy="150.04" r="1.5"/><circle cx="487.38" cy="149.76" r="1.5"/><circle cx="488.1" cy="150.04" r="1.5"/><circle cx="488.82" cy="150.14" r="1.5"/><circle cx="489.53" cy="149.76" r="1.5"/><circle cx="490.25" cy="149.28" r="1.5"/><circle cx="490.97" cy="149" r="1.5"/><circle cx="491.68" cy="148.72" r="1.5"/><circle cx="492.4" cy="148.53" r="1.5"/><circle cx="493.11" cy="148.34" r="1.5"/><circle cx="493.83" cy="148.27" r="1.5"/><circle cx="494.55" cy="148.2" r="1.5"/><circle cx="495.26" cy="148.12" r="1.5"/><circle cx="495.98" cy="148.05" r="1.5"/><circle cx="496.7" cy="148.02" r="1.5"/><circle cx="497.41" cy="147.98" r="1.5"/><circle cx="498.13" cy="147.94" r="1.5"/><circle cx="498.84" cy="147.9" r="1.5"/><circle cx="499.56" cy="147.86" r="1.5"/><circle cx="500.28" cy="147.85" r="1.5"/><circle cx="500.99" cy="147.85" r="1.5"/><circle cx="501.71" cy="147.84" r="1.5"/><circle cx="502.43" cy="147.83" r="1.5"/><circle cx="503.14" cy="147.82" r="1.5"/><circle cx="503.86" cy="147.81" r="1.5"/><circle cx="504.57" cy="147.81" r="1.5"/><circle cx="505.29" cy="147.81" r="1.5"/><circle cx="506.01" cy="147.81" r="1.5"/><circle cx="506.72" cy="147.81" r="1.5"/><circle cx="507.44" cy="147.81" r="1.5"/><circle cx="508.16" cy="147.8" r="1.5"/><circle cx="508.87" cy="147.8" r="1.5"/><circle cx="509.59" cy="147.8" r="1.5"/><circle cx="510.3" cy="147.8" r="1.5"/><circle cx="511.02" cy="147.8" r="1.5"/><circle cx="511.74" cy="147.79" r="1.5"/><circle cx="512.45" cy="147.79" r="1.5"/><circle cx="513.17" cy="147.79" r="1.5"/><circle cx="513.89" cy="147.79" r="1.5"/><circle cx="514.6" cy="147.79" r="1.5"/><circle cx="515.32" cy="147.78" r="1.5"/><circle cx="516.03" cy="147.78" r="1.5"/><circle cx="516.75" cy="147.78" r="1.5"/><circle cx="517.47" cy="147.78" r="1.5"/><circle cx="518.18" cy="147.78" r="1.5"/><circle cx="518.9" cy="147.77" r="1.5"/><circle cx="519.62" cy="147.77" r="1.5"/><circle cx="520.33" cy="147.77" r="1.5"/><circle cx="521.05" cy="147.77" r="1.5"/><circle cx="521.76" cy="147.77" r="1.5"/><circle cx="522.48" cy="147.77" r="1.5"/><circle cx="523.2" cy="147.76" r="1.5"/><circle cx="523.91" cy="147.76" r="1.5"/><circle cx="524.63" cy="147.76" r="1.5"/><circle cx="525.35" cy="147.76" r="1.5"/><circle cx="526.06" cy="147.76" r="1.5"/><circle cx="526.78" cy="147.75" r="1.5"/><circle cx="527.49" cy="147.75" r="1.5"/><circle cx="528.21" cy="147.75" r="1.5"/><circle cx="528.93" cy="147.75" r="1.5"/><circle cx="529.64" cy="147.75" r="1.5"/><circle cx="530.36" cy="147.74" r="1.5"/><circle cx="531.08" cy="147.74" r="1.5"/><circle cx="531.79" cy="147.74" r="1.5"/><circle cx="532.51" cy="147.74" r="1.5"/><circle cx="533.22" cy="147.74" r="1.5"/><circle cx="533.94" cy="147.74" r="1.5"/><circle cx="534.66" cy="147.73" r="1.5"/><circle cx="535.37" cy="147.73" r="1.5"/><circle cx="536.09" cy="147.73" r="1.5"/><circle cx="536.81" cy="147.73" r="1.5"/><circle cx="537.52" cy="147.73" r="1.5"/><circle cx="538.24" cy="147.72" r="1.5"/><circle cx="538.95" cy="147.72" r="1.5"/></g>
<polyline points="468.05,231.92 468.76,231.28 469.48,230.05 470.19,228.34 470.91,226.23 471.63,223.75 472.34,220.87 473.06,217.47 473.78,213.46 474.49,208.75 475.21,203.36 475.92,197.42 476.64,191.16 477.36,184.88 478.07,178.91 478.79,173.51 479.51,168.85 480.22,164.97 480.94,161.83 481.65,159.31 482.37,157.28 483.09,155.63 483.8,154.27 484.52,153.15 485.24,152.23 485.95,151.49 486.67,150.91 487.38,150.46 488.1,150.11 488.82,149.82 489.53,149.57 490.25,149.33 490.97,149.1 491.68,148.89 492.4,148.7 493.11,148.53 493.83,148.39 494.55,148.28 495.26,148.18 495.98,148.11 496.7,148.05 497.41,148 498.13,147.96 498.84,147.93 499.56,147.9 500.28,147.88 500.99,147.86 501.71,147.85 502.43,147.84 503.14,147.83 503.86,147.82 504.57,147.82 505.29,147.81 506.01,147.81 506.72,147.81 507.44,147.81 508.16,147.8 508.87,147.8 509.59,147.8 510.3,147.8 511.02,147.8 511.74,147.79 512.45,147.79 513.17,147.79 513.89,147.79 514.6,147.79 515.32,147.78 516.03,147.78 516.75,147.78 517.47,147.78 518.18,147.78 518.9,147.77 519.62,147.77 520.33,147.77 521.05,147.77 521.76,147.77 522.48,147.77 523.2,147.76 523.91,147.76 524.63,147.76 525.35,147.76 526.06,147.76 526.78,147.75 527.49,147.75 528.21,147.75 528.93,147.75 529.64,147.75 530.36,147.74 531.08,147.74 531.79,147.74 532.51,147.74 533.22,147.74 533.94,147.74 534.66,147.73 535.37,147.73 536.09,147.73 536.81,147.73 537.52,147.73 538.24,147.73 538.95,147.73" fill="none" stroke="#ff7f0e" stroke-width="1.3" stroke-dasharray="1.3 2.1"/>
<rect x="464.5" y="143.4" width="78" height="97.9" stroke="#6a6a6a" stroke-width="0.9" fill="none"/>
<path d="M467.33 241.3v2.3M503.14 241.3v2.3M538.95 241.3v2.3M464.5 239.4h-2.3M464.5 221h-2.3M464.5 202.6h-2.3M464.5 184.2h-2.3M464.5 165.8h-2.3M464.5 147.4h-2.3" stroke="#6a6a6a" stroke-width="0.9" fill="none"/>
<g font-family="'DejaVu Sans', 'Liberation Sans', sans-serif" font-size="6.4" fill="#111" stroke="#111" stroke-width="0.18">
<text x="467.33" y="250.6" text-anchor="middle">0</text>
<text x="503.14" y="250.6" text-anchor="middle">50</text>
<text x="538.95" y="250.6" text-anchor="middle">100</text>
<text x="460.05" y="241.8" text-anchor="end">0.0</text>
<text x="460.05" y="223.4" text-anchor="end">0.2</text>
<text x="460.05" y="205" text-anchor="end">0.4</text>
<text x="460.05" y="186.6" text-anchor="end">0.6</text>
<text x="460.05" y="168.2" text-anchor="end">0.8</text>
<text x="460.05" y="149.8" text-anchor="end">1.0</text>
</g>
<g font-family="'Liberation Serif', 'DejaVu Serif', serif" font-size="10.2" fill="#111" stroke="#111" stroke-width="0.12">
<text x="486.4" y="141.05" textLength="31.6" lengthAdjust="spacingAndGlyphs">metrics</text>
<text transform="translate(447.3 208.6) rotate(-90)" textLength="46" lengthAdjust="spacingAndGlyphs">mAP50-95</text>
</g>
</g>
</svg>
</body>
</html>
